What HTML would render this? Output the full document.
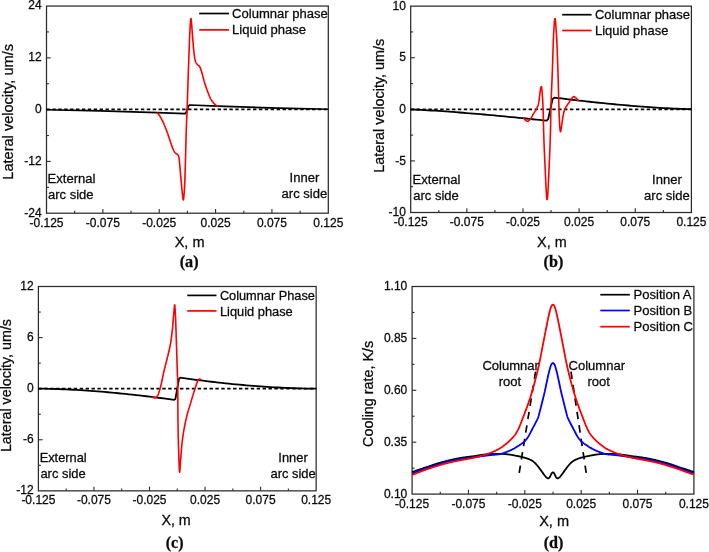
<!DOCTYPE html>
<html><head><meta charset="utf-8"><title>Figure</title>
<style>html,body{margin:0;padding:0;background:#fff}svg{display:block}</style>
</head><body>
<svg width="709" height="552" viewBox="0 0 709 552">
<rect x="0" y="0" width="709" height="552" fill="#fff"/>
<rect x="46.5" y="6.05" width="281.80" height="207.15" fill="none" stroke="#2b2b2b" stroke-width="1.25"/>
<line x1="74.68" y1="213.2" x2="74.68" y2="210.79999999999998" stroke="#2b2b2b" stroke-width="1.1"/>
<text x="46.5" y="226.8" font-family='"Liberation Sans", Arial, sans-serif' font-size="12" font-weight="normal" text-anchor="middle" fill="#0a0a0a" stroke="#0a0a0a" stroke-width="0.27">-0.125</text>
<line x1="102.86" y1="213.2" x2="102.86" y2="209.0" stroke="#2b2b2b" stroke-width="1.1"/>
<line x1="131.04" y1="213.2" x2="131.04" y2="210.79999999999998" stroke="#2b2b2b" stroke-width="1.1"/>
<text x="102.86" y="226.8" font-family='"Liberation Sans", Arial, sans-serif' font-size="12" font-weight="normal" text-anchor="middle" fill="#0a0a0a" stroke="#0a0a0a" stroke-width="0.27">-0.075</text>
<line x1="159.22" y1="213.2" x2="159.22" y2="209.0" stroke="#2b2b2b" stroke-width="1.1"/>
<line x1="187.40" y1="213.2" x2="187.40" y2="210.79999999999998" stroke="#2b2b2b" stroke-width="1.1"/>
<text x="159.22" y="226.8" font-family='"Liberation Sans", Arial, sans-serif' font-size="12" font-weight="normal" text-anchor="middle" fill="#0a0a0a" stroke="#0a0a0a" stroke-width="0.27">-0.025</text>
<line x1="215.58" y1="213.2" x2="215.58" y2="209.0" stroke="#2b2b2b" stroke-width="1.1"/>
<line x1="243.76" y1="213.2" x2="243.76" y2="210.79999999999998" stroke="#2b2b2b" stroke-width="1.1"/>
<text x="215.58" y="226.8" font-family='"Liberation Sans", Arial, sans-serif' font-size="12" font-weight="normal" text-anchor="middle" fill="#0a0a0a" stroke="#0a0a0a" stroke-width="0.27">0.025</text>
<line x1="271.94" y1="213.2" x2="271.94" y2="209.0" stroke="#2b2b2b" stroke-width="1.1"/>
<line x1="300.12" y1="213.2" x2="300.12" y2="210.79999999999998" stroke="#2b2b2b" stroke-width="1.1"/>
<text x="271.94" y="226.8" font-family='"Liberation Sans", Arial, sans-serif' font-size="12" font-weight="normal" text-anchor="middle" fill="#0a0a0a" stroke="#0a0a0a" stroke-width="0.27">0.075</text>
<text x="328.3" y="226.8" font-family='"Liberation Sans", Arial, sans-serif' font-size="12" font-weight="normal" text-anchor="middle" fill="#0a0a0a" stroke="#0a0a0a" stroke-width="0.27">0.125</text>
<line x1="46.5" y1="31.94" x2="48.9" y2="31.94" stroke="#2b2b2b" stroke-width="1.1"/>
<text x="41.7" y="9.35" font-family='"Liberation Sans", Arial, sans-serif' font-size="12" font-weight="normal" text-anchor="end" fill="#0a0a0a" stroke="#0a0a0a" stroke-width="0.27">24</text>
<line x1="46.5" y1="57.84" x2="50.7" y2="57.84" stroke="#2b2b2b" stroke-width="1.1"/>
<line x1="46.5" y1="83.73" x2="48.9" y2="83.73" stroke="#2b2b2b" stroke-width="1.1"/>
<text x="41.7" y="61.14" font-family='"Liberation Sans", Arial, sans-serif' font-size="12" font-weight="normal" text-anchor="end" fill="#0a0a0a" stroke="#0a0a0a" stroke-width="0.27">12</text>
<line x1="46.5" y1="109.62" x2="50.7" y2="109.62" stroke="#2b2b2b" stroke-width="1.1"/>
<line x1="46.5" y1="135.52" x2="48.9" y2="135.52" stroke="#2b2b2b" stroke-width="1.1"/>
<text x="41.7" y="112.92" font-family='"Liberation Sans", Arial, sans-serif' font-size="12" font-weight="normal" text-anchor="end" fill="#0a0a0a" stroke="#0a0a0a" stroke-width="0.27">0</text>
<line x1="46.5" y1="161.41" x2="50.7" y2="161.41" stroke="#2b2b2b" stroke-width="1.1"/>
<line x1="46.5" y1="187.31" x2="48.9" y2="187.31" stroke="#2b2b2b" stroke-width="1.1"/>
<text x="41.7" y="164.71" font-family='"Liberation Sans", Arial, sans-serif' font-size="12" font-weight="normal" text-anchor="end" fill="#0a0a0a" stroke="#0a0a0a" stroke-width="0.27">-12</text>
<text x="41.7" y="216.5" font-family='"Liberation Sans", Arial, sans-serif' font-size="12" font-weight="normal" text-anchor="end" fill="#0a0a0a" stroke="#0a0a0a" stroke-width="0.27">-24</text>
<text x="189.6" y="246.8" font-family='"Liberation Sans", Arial, sans-serif' font-size="14.55" font-weight="normal" text-anchor="middle" fill="#0a0a0a" stroke="#0a0a0a" stroke-width="0.27">X, m</text>
<text x="189.1" y="266.8" font-family='"Liberation Serif", "Times New Roman", serif' font-size="16.2" font-weight="bold" text-anchor="middle" fill="#0a0a0a" stroke="#0a0a0a" stroke-width="0.27">(a)</text>
<text x="12.8" y="111.85" font-family='"Liberation Sans", Arial, sans-serif' font-size="14.57" font-weight="normal" text-anchor="middle" fill="#0a0a0a" stroke="#0a0a0a" stroke-width="0.27" transform="rotate(-90 12.8 111.85)">Lateral velocity, um/s</text>
<line x1="46.5" y1="109.45" x2="328.3" y2="109.45" stroke="#000" stroke-width="1.8" stroke-dasharray="3.4 2.5"/>
<path d="M46.50,109.75 L100.00,110.90 L156.90,112.60 L184.80,113.70 L186.20,112.60 L188.40,106.20 L189.80,105.00 L217.70,106.20 L270.00,107.90 L328.30,109.25" fill="none" stroke="#000" stroke-width="1.75" stroke-linejoin="round" stroke-linecap="butt"/>
<path d="M156.90,112.60 L157.05,112.74 L157.21,112.88 L157.36,113.03 L157.51,113.18 L157.67,113.34 L157.82,113.50 L157.97,113.67 L158.13,113.85 L158.28,114.03 L158.43,114.21 L158.59,114.40 L158.74,114.59 L158.89,114.79 L159.05,114.99 L159.20,115.19 L159.35,115.40 L159.50,115.60 L159.51,115.61 L159.66,115.83 L159.81,116.05 L159.97,116.28 L160.12,116.52 L160.27,116.77 L160.43,117.02 L160.58,117.28 L160.73,117.54 L160.89,117.81 L161.04,118.09 L161.19,118.36 L161.35,118.65 L161.50,118.94 L161.65,119.23 L161.81,119.52 L161.96,119.82 L162.12,120.12 L162.27,120.43 L162.42,120.74 L162.58,121.05 L162.70,121.30 L162.73,121.36 L162.88,121.67 L163.04,121.99 L163.19,122.32 L163.34,122.65 L163.50,122.99 L163.65,123.33 L163.80,123.67 L163.96,124.02 L164.11,124.37 L164.26,124.73 L164.42,125.09 L164.57,125.46 L164.72,125.83 L164.88,126.20 L165.03,126.58 L165.18,126.96 L165.34,127.34 L165.49,127.72 L165.64,128.11 L165.80,128.50 L165.95,128.90 L166.10,129.30 L166.26,129.70 L166.41,130.10 L166.56,130.50 L166.72,130.91 L166.87,131.32 L167.02,131.73 L167.18,132.14 L167.20,132.20 L167.33,132.55 L167.48,132.98 L167.64,133.42 L167.79,133.86 L167.94,134.31 L168.10,134.77 L168.25,135.24 L168.40,135.70 L168.56,136.18 L168.71,136.65 L168.86,137.13 L169.02,137.61 L169.17,138.09 L169.32,138.57 L169.48,139.05 L169.63,139.53 L169.78,140.00 L169.94,140.47 L170.09,140.94 L170.24,141.40 L170.40,141.85 L170.55,142.30 L170.70,142.73 L170.80,143.00 L170.86,143.16 L171.01,143.59 L171.16,144.03 L171.32,144.47 L171.47,144.91 L171.62,145.35 L171.78,145.79 L171.93,146.22 L172.08,146.65 L172.24,147.07 L172.39,147.49 L172.55,147.90 L172.70,148.29 L172.85,148.67 L173.01,149.04 L173.16,149.39 L173.31,149.73 L173.47,150.04 L173.60,150.30 L173.62,150.34 L173.77,150.62 L173.93,150.90 L174.08,151.17 L174.23,151.43 L174.39,151.68 L174.54,151.92 L174.69,152.15 L174.85,152.36 L175.00,152.56 L175.15,152.74 L175.31,152.91 L175.40,153.00 L175.46,153.05 L175.61,153.18 L175.77,153.29 L175.92,153.39 L176.07,153.48 L176.23,153.56 L176.38,153.63 L176.53,153.71 L176.69,153.79 L176.84,153.88 L176.99,153.98 L177.15,154.08 L177.30,154.21 L177.45,154.35 L177.50,154.40 L177.61,154.52 L177.76,154.70 L177.91,154.92 L178.07,155.16 L178.22,155.44 L178.37,155.76 L178.53,156.13 L178.68,156.55 L178.83,157.02 L178.99,157.55 L179.00,157.60 L179.14,158.37 L179.29,159.67 L179.45,161.31 L179.60,163.12 L179.75,164.96 L179.90,166.60 L179.91,166.68 L180.06,168.32 L180.21,170.00 L180.37,171.71 L180.52,173.44 L180.67,175.18 L180.83,176.93 L180.98,178.66 L181.13,180.38 L181.20,181.10 L181.29,182.08 L181.44,183.84 L181.59,185.62 L181.75,187.38 L181.90,189.07 L182.05,190.65 L182.20,192.00 L182.21,192.07 L182.36,193.50 L182.52,195.00 L182.67,196.47 L182.82,197.81 L182.98,198.91 L183.13,199.68 L183.28,200.00 L183.30,200.00 L183.44,199.79 L183.59,199.07 L183.74,197.94 L183.90,196.45 L184.05,194.70 L184.20,192.76 L184.36,190.70 L184.40,190.10 L184.51,188.37 L184.66,185.17 L184.82,181.25 L184.97,176.76 L185.12,171.89 L185.28,166.79 L185.43,161.64 L185.50,159.30 L185.58,156.40 L185.74,150.33 L185.89,143.88 L186.04,137.67 L186.20,132.32 L186.20,132.20 L186.35,127.96 L186.50,124.12 L186.66,120.55 L186.81,116.98 L186.96,113.18 L187.00,112.20 L187.12,108.99 L187.27,104.57 L187.42,99.98 L187.58,95.27 L187.73,90.49 L187.88,85.68 L188.04,80.89 L188.19,76.18 L188.34,71.58 L188.50,67.16 L188.60,64.30 L188.65,62.93 L188.80,58.74 L188.96,54.57 L189.11,50.45 L189.26,46.44 L189.42,42.56 L189.57,38.86 L189.72,35.37 L189.88,32.15 L189.90,31.70 L190.03,29.09 L190.18,26.12 L190.34,23.53 L190.49,21.59 L190.50,21.50 L190.64,20.11 L190.80,18.90 L190.95,18.40 L190.95,18.40 L191.10,18.94 L191.26,20.19 L191.40,21.50 L191.41,21.60 L191.56,23.19 L191.72,25.11 L191.87,27.22 L192.02,29.38 L192.18,31.43 L192.20,31.70 L192.33,33.36 L192.48,35.35 L192.64,37.35 L192.79,39.36 L192.95,41.34 L193.10,43.27 L193.25,45.13 L193.41,46.89 L193.56,48.52 L193.70,49.90 L193.71,50.01 L193.87,51.42 L194.02,52.79 L194.17,54.11 L194.33,55.36 L194.48,56.51 L194.63,57.54 L194.79,58.43 L194.90,59.00 L194.94,59.18 L195.09,59.83 L195.25,60.44 L195.40,60.99 L195.55,61.48 L195.71,61.92 L195.86,62.30 L196.00,62.60 L196.01,62.62 L196.17,62.90 L196.32,63.16 L196.47,63.39 L196.63,63.60 L196.78,63.80 L196.93,63.98 L197.09,64.15 L197.24,64.32 L197.39,64.48 L197.50,64.60 L197.55,64.65 L197.70,64.80 L197.85,64.94 L198.01,65.07 L198.16,65.19 L198.31,65.30 L198.47,65.42 L198.62,65.53 L198.77,65.65 L198.93,65.78 L199.08,65.93 L199.23,66.08 L199.39,66.26 L199.50,66.40 L199.54,66.46 L199.69,66.69 L199.85,66.96 L200.00,67.27 L200.15,67.61 L200.31,67.97 L200.46,68.36 L200.61,68.76 L200.77,69.18 L200.92,69.62 L201.07,70.05 L201.23,70.49 L201.30,70.70 L201.38,70.94 L201.53,71.41 L201.69,71.92 L201.84,72.45 L201.99,73.00 L202.15,73.57 L202.30,74.16 L202.45,74.76 L202.61,75.37 L202.76,75.99 L202.92,76.61 L203.07,77.22 L203.22,77.83 L203.38,78.43 L203.53,79.02 L203.68,79.59 L203.84,80.14 L203.99,80.66 L204.00,80.70 L204.14,81.17 L204.30,81.68 L204.45,82.18 L204.60,82.68 L204.76,83.17 L204.91,83.67 L205.06,84.15 L205.22,84.64 L205.37,85.11 L205.52,85.59 L205.68,86.06 L205.83,86.52 L205.98,86.98 L206.14,87.44 L206.29,87.89 L206.44,88.33 L206.60,88.77 L206.75,89.20 L206.90,89.63 L207.06,90.05 L207.21,90.47 L207.36,90.88 L207.52,91.28 L207.60,91.50 L207.67,91.68 L207.82,92.08 L207.98,92.48 L208.13,92.87 L208.28,93.27 L208.44,93.67 L208.59,94.06 L208.74,94.45 L208.90,94.83 L209.05,95.21 L209.20,95.59 L209.36,95.96 L209.51,96.32 L209.66,96.68 L209.82,97.02 L209.97,97.36 L210.12,97.69 L210.28,98.01 L210.43,98.33 L210.58,98.62 L210.74,98.91 L210.89,99.19 L211.04,99.45 L211.20,99.70 L211.20,99.70 L211.35,99.94 L211.50,100.17 L211.66,100.40 L211.81,100.62 L211.96,100.85 L212.12,101.06 L212.27,101.28 L212.42,101.49 L212.58,101.69 L212.73,101.89 L212.88,102.09 L213.04,102.28 L213.19,102.47 L213.35,102.65 L213.50,102.83 L213.65,103.01 L213.81,103.18 L213.96,103.35 L214.11,103.52 L214.27,103.68 L214.42,103.84 L214.57,103.99 L214.73,104.14 L214.88,104.29 L215.03,104.43 L215.19,104.57 L215.34,104.71 L215.49,104.84 L215.65,104.97 L215.80,105.10 L215.80,105.10 L215.95,105.22 L216.11,105.34 L216.26,105.46 L216.41,105.57 L216.57,105.68 L216.72,105.79 L216.87,105.90 L217.03,106.00 L217.18,106.09 L217.33,106.19 L217.49,106.28 L217.64,106.36 L217.79,106.45 L217.95,106.52 L218.10,106.60" fill="none" stroke="#f00" stroke-width="1.6" stroke-linejoin="round" stroke-linecap="butt"/>
<line x1="199.2" y1="13.5" x2="229" y2="13.5" stroke="#000" stroke-width="1.7"/>
<line x1="199.2" y1="29.9" x2="229" y2="29.9" stroke="#f00" stroke-width="1.7"/>
<text x="232.1" y="18.2" font-family='"Liberation Sans", Arial, sans-serif' font-size="13.05" font-weight="normal" text-anchor="start" fill="#0a0a0a" stroke="#0a0a0a" stroke-width="0.27">Columnar phase</text>
<text x="232.1" y="34.4" font-family='"Liberation Sans", Arial, sans-serif' font-size="13.05" font-weight="normal" text-anchor="start" fill="#0a0a0a" stroke="#0a0a0a" stroke-width="0.27">Liquid phase</text>
<text x="47.6" y="182.8" font-family='"Liberation Sans", Arial, sans-serif' font-size="13.05" font-weight="normal" text-anchor="start" fill="#0a0a0a" stroke="#0a0a0a" stroke-width="0.27">External</text>
<text x="47.9" y="198.9" font-family='"Liberation Sans", Arial, sans-serif' font-size="13.05" font-weight="normal" text-anchor="start" fill="#0a0a0a" stroke="#0a0a0a" stroke-width="0.27">arc side</text>
<text x="304.4" y="181.9" font-family='"Liberation Sans", Arial, sans-serif' font-size="13.05" font-weight="normal" text-anchor="middle" fill="#0a0a0a" stroke="#0a0a0a" stroke-width="0.27">Inner</text>
<text x="304.4" y="197.6" font-family='"Liberation Sans", Arial, sans-serif' font-size="13.05" font-weight="normal" text-anchor="middle" fill="#0a0a0a" stroke="#0a0a0a" stroke-width="0.27">arc side</text>
<rect x="410.7" y="6.15" width="280.70" height="206.35" fill="none" stroke="#2b2b2b" stroke-width="1.25"/>
<line x1="438.77" y1="212.5" x2="438.77" y2="210.1" stroke="#2b2b2b" stroke-width="1.1"/>
<text x="410.7" y="226.2" font-family='"Liberation Sans", Arial, sans-serif' font-size="12" font-weight="normal" text-anchor="middle" fill="#0a0a0a" stroke="#0a0a0a" stroke-width="0.27">-0.125</text>
<line x1="466.84" y1="212.5" x2="466.84" y2="208.3" stroke="#2b2b2b" stroke-width="1.1"/>
<line x1="494.91" y1="212.5" x2="494.91" y2="210.1" stroke="#2b2b2b" stroke-width="1.1"/>
<text x="466.84" y="226.2" font-family='"Liberation Sans", Arial, sans-serif' font-size="12" font-weight="normal" text-anchor="middle" fill="#0a0a0a" stroke="#0a0a0a" stroke-width="0.27">-0.075</text>
<line x1="522.98" y1="212.5" x2="522.98" y2="208.3" stroke="#2b2b2b" stroke-width="1.1"/>
<line x1="551.05" y1="212.5" x2="551.05" y2="210.1" stroke="#2b2b2b" stroke-width="1.1"/>
<text x="522.98" y="226.2" font-family='"Liberation Sans", Arial, sans-serif' font-size="12" font-weight="normal" text-anchor="middle" fill="#0a0a0a" stroke="#0a0a0a" stroke-width="0.27">-0.025</text>
<line x1="579.12" y1="212.5" x2="579.12" y2="208.3" stroke="#2b2b2b" stroke-width="1.1"/>
<line x1="607.19" y1="212.5" x2="607.19" y2="210.1" stroke="#2b2b2b" stroke-width="1.1"/>
<text x="579.12" y="226.2" font-family='"Liberation Sans", Arial, sans-serif' font-size="12" font-weight="normal" text-anchor="middle" fill="#0a0a0a" stroke="#0a0a0a" stroke-width="0.27">0.025</text>
<line x1="635.26" y1="212.5" x2="635.26" y2="208.3" stroke="#2b2b2b" stroke-width="1.1"/>
<line x1="663.33" y1="212.5" x2="663.33" y2="210.1" stroke="#2b2b2b" stroke-width="1.1"/>
<text x="635.26" y="226.2" font-family='"Liberation Sans", Arial, sans-serif' font-size="12" font-weight="normal" text-anchor="middle" fill="#0a0a0a" stroke="#0a0a0a" stroke-width="0.27">0.075</text>
<text x="691.4" y="226.2" font-family='"Liberation Sans", Arial, sans-serif' font-size="12" font-weight="normal" text-anchor="middle" fill="#0a0a0a" stroke="#0a0a0a" stroke-width="0.27">0.125</text>
<line x1="410.7" y1="31.94" x2="413.09999999999997" y2="31.94" stroke="#2b2b2b" stroke-width="1.1"/>
<text x="405.9" y="9.85" font-family='"Liberation Sans", Arial, sans-serif' font-size="12" font-weight="normal" text-anchor="end" fill="#0a0a0a" stroke="#0a0a0a" stroke-width="0.27">10</text>
<line x1="410.7" y1="57.74" x2="414.9" y2="57.74" stroke="#2b2b2b" stroke-width="1.1"/>
<line x1="410.7" y1="83.53" x2="413.09999999999997" y2="83.53" stroke="#2b2b2b" stroke-width="1.1"/>
<text x="405.9" y="61.44" font-family='"Liberation Sans", Arial, sans-serif' font-size="12" font-weight="normal" text-anchor="end" fill="#0a0a0a" stroke="#0a0a0a" stroke-width="0.27">5</text>
<line x1="410.7" y1="109.33" x2="414.9" y2="109.33" stroke="#2b2b2b" stroke-width="1.1"/>
<line x1="410.7" y1="135.12" x2="413.09999999999997" y2="135.12" stroke="#2b2b2b" stroke-width="1.1"/>
<text x="405.9" y="113.03" font-family='"Liberation Sans", Arial, sans-serif' font-size="12" font-weight="normal" text-anchor="end" fill="#0a0a0a" stroke="#0a0a0a" stroke-width="0.27">0</text>
<line x1="410.7" y1="160.91" x2="414.9" y2="160.91" stroke="#2b2b2b" stroke-width="1.1"/>
<line x1="410.7" y1="186.71" x2="413.09999999999997" y2="186.71" stroke="#2b2b2b" stroke-width="1.1"/>
<text x="405.9" y="164.61" font-family='"Liberation Sans", Arial, sans-serif' font-size="12" font-weight="normal" text-anchor="end" fill="#0a0a0a" stroke="#0a0a0a" stroke-width="0.27">-5</text>
<text x="405.9" y="216.2" font-family='"Liberation Sans", Arial, sans-serif' font-size="12" font-weight="normal" text-anchor="end" fill="#0a0a0a" stroke="#0a0a0a" stroke-width="0.27">-10</text>
<text x="551.9" y="246.8" font-family='"Liberation Sans", Arial, sans-serif' font-size="14.4" font-weight="normal" text-anchor="middle" fill="#0a0a0a" stroke="#0a0a0a" stroke-width="0.27">X, m</text>
<text x="553.4" y="266.8" font-family='"Liberation Serif", "Times New Roman", serif' font-size="16.2" font-weight="bold" text-anchor="middle" fill="#0a0a0a" stroke="#0a0a0a" stroke-width="0.27">(b)</text>
<text x="383.8" y="105.75" font-family='"Liberation Sans", Arial, sans-serif' font-size="14.4" font-weight="normal" text-anchor="middle" fill="#0a0a0a" stroke="#0a0a0a" stroke-width="0.27" transform="rotate(-90 383.8 105.75)">Lateral velocity, um/s</text>
<line x1="410.7" y1="109.325" x2="691.4" y2="109.325" stroke="#000" stroke-width="1.8" stroke-dasharray="3.4 2.5"/>
<path d="M410.70,109.53 L414.19,109.62 L417.67,109.76 L421.16,109.92 L424.65,110.10 L428.14,110.30 L431.62,110.51 L435.11,110.72 L438.60,110.95 L442.08,111.19 L445.57,111.43 L449.06,111.68 L452.55,111.94 L456.03,112.20 L459.52,112.48 L463.01,112.75 L466.49,113.03 L469.98,113.32 L473.47,113.61 L476.96,113.91 L480.44,114.22 L483.93,114.52 L487.42,114.83 L490.91,115.15 L494.39,115.47 L497.88,115.79 L501.37,116.12 L504.85,116.45 L508.34,116.79 L511.83,117.13 L515.32,117.47 L518.80,117.82 L522.29,118.17 L525.78,118.52 L529.26,118.87 L532.75,119.23 L536.24,119.60 L539.73,119.96 L543.21,120.33 L546.70,120.70 L548.20,119.00 L552.60,99.00 L554.50,97.60 L558.01,98.04 L561.52,98.48 L565.03,98.90 L568.54,99.33 L572.05,99.74 L575.56,100.15 L579.07,100.56 L582.58,100.96 L586.09,101.35 L589.60,101.74 L593.11,102.11 L596.62,102.49 L600.13,102.85 L603.64,103.21 L607.15,103.56 L610.66,103.91 L614.17,104.24 L617.68,104.57 L621.19,104.89 L624.71,105.21 L628.22,105.51 L631.73,105.81 L635.24,106.10 L638.75,106.38 L642.26,106.65 L645.77,106.91 L649.28,107.16 L652.79,107.40 L656.30,107.63 L659.81,107.85 L663.32,108.05 L666.83,108.25 L670.34,108.43 L673.85,108.60 L677.36,108.75 L680.87,108.88 L684.38,108.99 L687.89,109.08 L691.40,109.12" fill="none" stroke="#000" stroke-width="1.8" stroke-linejoin="round" stroke-linecap="butt"/>
<path d="M523.60,117.50 L523.74,117.75 L523.87,118.00 L524.01,118.24 L524.15,118.48 L524.29,118.70 L524.42,118.92 L524.56,119.13 L524.70,119.32 L524.84,119.51 L524.97,119.68 L525.11,119.84 L525.25,119.98 L525.39,120.11 L525.50,120.20 L525.52,120.22 L525.66,120.32 L525.80,120.42 L525.93,120.52 L526.07,120.62 L526.21,120.71 L526.35,120.80 L526.48,120.89 L526.62,120.97 L526.76,121.04 L526.90,121.11 L527.03,121.16 L527.17,121.21 L527.31,121.25 L527.45,121.28 L527.58,121.30 L527.70,121.30 L527.72,121.30 L527.86,121.29 L527.99,121.25 L528.13,121.20 L528.27,121.13 L528.41,121.05 L528.54,120.96 L528.68,120.85 L528.82,120.73 L528.96,120.60 L529.09,120.47 L529.23,120.33 L529.37,120.18 L529.51,120.03 L529.64,119.88 L529.78,119.73 L529.92,119.59 L530.00,119.50 L530.06,119.44 L530.19,119.28 L530.33,119.11 L530.47,118.92 L530.60,118.73 L530.74,118.52 L530.88,118.30 L531.02,118.07 L531.15,117.84 L531.29,117.59 L531.43,117.35 L531.57,117.10 L531.70,116.84 L531.84,116.58 L531.98,116.33 L532.12,116.07 L532.25,115.81 L532.39,115.56 L532.53,115.31 L532.66,115.07 L532.80,114.83 L532.94,114.60 L533.00,114.50 L533.08,114.38 L533.21,114.16 L533.35,113.94 L533.49,113.72 L533.63,113.51 L533.76,113.30 L533.90,113.09 L534.04,112.88 L534.18,112.67 L534.31,112.46 L534.45,112.25 L534.59,112.04 L534.72,111.83 L534.86,111.61 L535.00,111.40 L535.14,111.18 L535.27,110.96 L535.41,110.73 L535.55,110.50 L535.69,110.27 L535.82,110.03 L535.90,109.90 L535.96,109.79 L536.10,109.55 L536.24,109.31 L536.37,109.06 L536.51,108.81 L536.65,108.55 L536.78,108.28 L536.92,108.01 L537.06,107.73 L537.20,107.43 L537.30,107.20 L537.33,107.12 L537.47,106.81 L537.61,106.50 L537.75,106.18 L537.88,105.83 L538.02,105.46 L538.16,105.04 L538.30,104.58 L538.40,104.20 L538.43,104.07 L538.57,103.43 L538.71,102.65 L538.85,101.76 L538.98,100.79 L539.12,99.76 L539.26,98.70 L539.39,97.62 L539.53,96.55 L539.67,95.52 L539.70,95.30 L539.81,94.48 L539.94,93.32 L540.08,92.11 L540.22,90.93 L540.36,89.86 L540.49,88.99 L540.60,88.50 L540.63,88.39 L540.77,87.88 L540.91,87.41 L541.04,87.01 L541.18,86.71 L541.32,86.53 L541.40,86.50 L541.45,86.55 L541.59,87.03 L541.73,87.97 L541.87,89.27 L542.00,90.84 L542.14,92.58 L542.28,94.40 L542.40,96.00 L542.42,96.21 L542.55,98.16 L542.69,100.42 L542.83,103.03 L542.97,106.03 L543.10,109.40 L543.10,109.47 L543.24,114.37 L543.38,120.64 L543.51,126.83 L543.60,130.00 L543.65,131.67 L543.79,135.89 L543.93,139.87 L544.06,143.63 L544.20,147.19 L544.34,150.57 L544.48,153.80 L544.61,156.89 L544.75,159.85 L544.89,162.72 L545.00,165.00 L545.03,165.52 L545.16,168.39 L545.30,171.37 L545.44,174.42 L545.57,177.50 L545.71,180.54 L545.85,183.52 L545.99,186.38 L546.12,189.08 L546.26,191.58 L546.40,193.83 L546.54,195.77 L546.67,197.38 L546.81,198.60 L546.95,199.39 L547.09,199.70 L547.10,199.70 L547.22,199.50 L547.36,198.82 L547.50,197.71 L547.64,196.21 L547.77,194.36 L547.91,192.20 L548.05,189.79 L548.18,187.15 L548.32,184.33 L548.46,181.39 L548.60,178.35 L548.73,175.26 L548.87,172.17 L549.01,169.11 L549.15,166.14 L549.20,165.00 L549.28,163.25 L549.42,160.31 L549.56,157.25 L549.70,154.04 L549.83,150.64 L549.97,147.00 L550.11,143.08 L550.24,138.85 L550.38,134.26 L550.50,130.00 L550.52,129.24 L550.66,122.21 L550.79,114.33 L550.90,109.40 L550.93,108.25 L551.07,103.55 L551.21,99.33 L551.34,95.50 L551.48,91.98 L551.62,88.68 L551.76,85.52 L551.89,82.41 L552.03,79.27 L552.17,76.02 L552.30,72.56 L552.40,70.00 L552.44,68.81 L552.58,64.70 L552.72,60.31 L552.85,55.80 L552.99,51.29 L553.13,46.93 L553.27,42.86 L553.40,39.21 L553.54,36.12 L553.60,35.00 L553.68,33.60 L553.82,31.12 L553.95,28.68 L554.09,26.35 L554.23,24.19 L554.36,22.28 L554.50,20.69 L554.64,19.48 L554.78,18.73 L554.90,18.50 L554.91,18.50 L555.05,18.72 L555.19,19.29 L555.33,20.16 L555.46,21.30 L555.60,22.68 L555.74,24.26 L555.88,26.00 L556.01,27.87 L556.15,29.83 L556.29,31.85 L556.43,33.89 L556.50,35.00 L556.56,35.96 L556.70,38.37 L556.84,41.15 L556.97,44.24 L557.11,47.60 L557.25,51.20 L557.39,54.98 L557.52,58.90 L557.66,62.92 L557.80,66.99 L557.90,70.00 L557.94,71.09 L558.07,75.62 L558.21,80.62 L558.35,85.91 L558.49,91.29 L558.62,96.61 L558.76,101.68 L558.90,106.32 L559.00,109.40 L559.03,110.38 L559.17,114.31 L559.31,118.12 L559.45,121.55 L559.58,124.34 L559.70,126.00 L559.72,126.24 L559.86,127.71 L560.00,129.07 L560.13,130.21 L560.27,131.08 L560.41,131.60 L560.50,131.70 L560.55,131.68 L560.68,131.43 L560.82,130.92 L560.96,130.21 L561.09,129.37 L561.23,128.44 L561.37,127.49 L561.51,126.57 L561.60,126.00 L561.64,125.74 L561.78,124.87 L561.92,123.93 L562.06,122.94 L562.19,121.93 L562.33,120.91 L562.47,119.90 L562.61,118.93 L562.74,118.01 L562.88,117.16 L563.00,116.50 L563.02,116.41 L563.15,115.70 L563.29,115.00 L563.43,114.32 L563.57,113.66 L563.70,113.02 L563.84,112.40 L563.98,111.82 L564.12,111.27 L564.25,110.76 L564.39,110.29 L564.53,109.86 L564.67,109.49 L564.70,109.40 L564.80,109.15 L564.94,108.84 L565.08,108.55 L565.22,108.28 L565.35,108.02 L565.49,107.78 L565.63,107.55 L565.76,107.33 L565.90,107.12 L566.04,106.92 L566.18,106.72 L566.31,106.52 L566.45,106.32 L566.59,106.12 L566.73,105.92 L566.86,105.71 L567.00,105.50 L567.00,105.50 L567.14,105.28 L567.28,105.06 L567.41,104.85 L567.55,104.63 L567.69,104.42 L567.82,104.21 L567.96,104.00 L568.10,103.79 L568.24,103.58 L568.37,103.37 L568.51,103.17 L568.65,102.96 L568.79,102.76 L568.92,102.56 L569.06,102.36 L569.20,102.16 L569.34,101.96 L569.47,101.76 L569.61,101.56 L569.75,101.36 L569.88,101.16 L570.00,101.00 L570.02,100.97 L570.16,100.77 L570.30,100.57 L570.43,100.36 L570.57,100.16 L570.71,99.95 L570.85,99.74 L570.98,99.53 L571.12,99.33 L571.26,99.13 L571.40,98.93 L571.53,98.74 L571.67,98.55 L571.81,98.37 L571.94,98.20 L572.08,98.03 L572.22,97.88 L572.36,97.74 L572.49,97.61 L572.50,97.60 L572.63,97.48 L572.77,97.34 L572.91,97.21 L573.04,97.08 L573.18,96.96 L573.32,96.85 L573.46,96.75 L573.59,96.68 L573.73,96.62 L573.87,96.60 L573.90,96.60 L574.01,96.61 L574.14,96.64 L574.28,96.69 L574.42,96.76 L574.55,96.84 L574.69,96.94 L574.83,97.04 L574.97,97.15 L575.10,97.27 L575.24,97.39 L575.38,97.50 L575.50,97.60 L575.52,97.61 L575.65,97.72 L575.79,97.84 L575.93,97.96 L576.07,98.09 L576.20,98.22 L576.34,98.36 L576.48,98.51 L576.61,98.65 L576.75,98.81 L576.89,98.96 L577.03,99.13 L577.16,99.29 L577.30,99.46 L577.44,99.64 L577.58,99.82 L577.71,100.01 L577.85,100.20 L577.99,100.39 L578.13,100.59 L578.26,100.79 L578.40,101.00" fill="none" stroke="#f00" stroke-width="1.6" stroke-linejoin="round" stroke-linecap="butt"/>
<line x1="562.2" y1="14.7" x2="591.6" y2="14.7" stroke="#000" stroke-width="1.7"/>
<line x1="562.2" y1="30.5" x2="591.6" y2="30.5" stroke="#f00" stroke-width="1.7"/>
<text x="595.0" y="19.3" font-family='"Liberation Sans", Arial, sans-serif' font-size="12.95" font-weight="normal" text-anchor="start" fill="#0a0a0a" stroke="#0a0a0a" stroke-width="0.27">Columnar phase</text>
<text x="595.0" y="35.2" font-family='"Liberation Sans", Arial, sans-serif' font-size="12.95" font-weight="normal" text-anchor="start" fill="#0a0a0a" stroke="#0a0a0a" stroke-width="0.27">Liquid phase</text>
<text x="412.6" y="183.5" font-family='"Liberation Sans", Arial, sans-serif' font-size="13.05" font-weight="normal" text-anchor="start" fill="#0a0a0a" stroke="#0a0a0a" stroke-width="0.27">External</text>
<text x="413.2" y="199.5" font-family='"Liberation Sans", Arial, sans-serif' font-size="13.05" font-weight="normal" text-anchor="start" fill="#0a0a0a" stroke="#0a0a0a" stroke-width="0.27">arc side</text>
<text x="666.9" y="183.5" font-family='"Liberation Sans", Arial, sans-serif' font-size="13.05" font-weight="normal" text-anchor="middle" fill="#0a0a0a" stroke="#0a0a0a" stroke-width="0.27">Inner</text>
<text x="666.9" y="199.5" font-family='"Liberation Sans", Arial, sans-serif' font-size="13.05" font-weight="normal" text-anchor="middle" fill="#0a0a0a" stroke="#0a0a0a" stroke-width="0.27">arc side</text>
<rect x="38.4" y="286.5" width="277.75" height="204.35" fill="none" stroke="#2b2b2b" stroke-width="1.25"/>
<line x1="66.17" y1="490.85" x2="66.17" y2="488.45000000000005" stroke="#2b2b2b" stroke-width="1.1"/>
<text x="38.4" y="504.3" font-family='"Liberation Sans", Arial, sans-serif' font-size="12" font-weight="normal" text-anchor="middle" fill="#0a0a0a" stroke="#0a0a0a" stroke-width="0.27">-0.125</text>
<line x1="93.95" y1="490.85" x2="93.95" y2="486.65000000000003" stroke="#2b2b2b" stroke-width="1.1"/>
<line x1="121.72" y1="490.85" x2="121.72" y2="488.45000000000005" stroke="#2b2b2b" stroke-width="1.1"/>
<text x="93.95" y="504.3" font-family='"Liberation Sans", Arial, sans-serif' font-size="12" font-weight="normal" text-anchor="middle" fill="#0a0a0a" stroke="#0a0a0a" stroke-width="0.27">-0.075</text>
<line x1="149.50" y1="490.85" x2="149.50" y2="486.65000000000003" stroke="#2b2b2b" stroke-width="1.1"/>
<line x1="177.28" y1="490.85" x2="177.28" y2="488.45000000000005" stroke="#2b2b2b" stroke-width="1.1"/>
<text x="149.5" y="504.3" font-family='"Liberation Sans", Arial, sans-serif' font-size="12" font-weight="normal" text-anchor="middle" fill="#0a0a0a" stroke="#0a0a0a" stroke-width="0.27">-0.025</text>
<line x1="205.05" y1="490.85" x2="205.05" y2="486.65000000000003" stroke="#2b2b2b" stroke-width="1.1"/>
<line x1="232.82" y1="490.85" x2="232.82" y2="488.45000000000005" stroke="#2b2b2b" stroke-width="1.1"/>
<text x="205.05" y="504.3" font-family='"Liberation Sans", Arial, sans-serif' font-size="12" font-weight="normal" text-anchor="middle" fill="#0a0a0a" stroke="#0a0a0a" stroke-width="0.27">0.025</text>
<line x1="260.60" y1="490.85" x2="260.60" y2="486.65000000000003" stroke="#2b2b2b" stroke-width="1.1"/>
<line x1="288.37" y1="490.85" x2="288.37" y2="488.45000000000005" stroke="#2b2b2b" stroke-width="1.1"/>
<text x="260.6" y="504.3" font-family='"Liberation Sans", Arial, sans-serif' font-size="12" font-weight="normal" text-anchor="middle" fill="#0a0a0a" stroke="#0a0a0a" stroke-width="0.27">0.075</text>
<text x="316.15" y="504.3" font-family='"Liberation Sans", Arial, sans-serif' font-size="12" font-weight="normal" text-anchor="middle" fill="#0a0a0a" stroke="#0a0a0a" stroke-width="0.27">0.125</text>
<line x1="38.4" y1="312.04" x2="40.8" y2="312.04" stroke="#2b2b2b" stroke-width="1.1"/>
<text x="33.6" y="289.9" font-family='"Liberation Sans", Arial, sans-serif' font-size="12" font-weight="normal" text-anchor="end" fill="#0a0a0a" stroke="#0a0a0a" stroke-width="0.27">12</text>
<line x1="38.4" y1="337.59" x2="42.6" y2="337.59" stroke="#2b2b2b" stroke-width="1.1"/>
<line x1="38.4" y1="363.13" x2="40.8" y2="363.13" stroke="#2b2b2b" stroke-width="1.1"/>
<text x="33.6" y="340.99" font-family='"Liberation Sans", Arial, sans-serif' font-size="12" font-weight="normal" text-anchor="end" fill="#0a0a0a" stroke="#0a0a0a" stroke-width="0.27">6</text>
<line x1="38.4" y1="388.68" x2="42.6" y2="388.68" stroke="#2b2b2b" stroke-width="1.1"/>
<line x1="38.4" y1="414.22" x2="40.8" y2="414.22" stroke="#2b2b2b" stroke-width="1.1"/>
<text x="33.6" y="392.07" font-family='"Liberation Sans", Arial, sans-serif' font-size="12" font-weight="normal" text-anchor="end" fill="#0a0a0a" stroke="#0a0a0a" stroke-width="0.27">0</text>
<line x1="38.4" y1="439.76" x2="42.6" y2="439.76" stroke="#2b2b2b" stroke-width="1.1"/>
<line x1="38.4" y1="465.31" x2="40.8" y2="465.31" stroke="#2b2b2b" stroke-width="1.1"/>
<text x="33.6" y="443.16" font-family='"Liberation Sans", Arial, sans-serif' font-size="12" font-weight="normal" text-anchor="end" fill="#0a0a0a" stroke="#0a0a0a" stroke-width="0.27">-6</text>
<text x="33.6" y="494.25" font-family='"Liberation Sans", Arial, sans-serif' font-size="12" font-weight="normal" text-anchor="end" fill="#0a0a0a" stroke="#0a0a0a" stroke-width="0.27">-12</text>
<text x="176.1" y="525.4" font-family='"Liberation Sans", Arial, sans-serif' font-size="14.3" font-weight="normal" text-anchor="middle" fill="#0a0a0a" stroke="#0a0a0a" stroke-width="0.27">X, m</text>
<text x="174.6" y="548.2" font-family='"Liberation Serif", "Times New Roman", serif' font-size="16.0" font-weight="bold" text-anchor="middle" fill="#0a0a0a" stroke="#0a0a0a" stroke-width="0.27">(c)</text>
<text x="10.8" y="385.55" font-family='"Liberation Sans", Arial, sans-serif' font-size="14.29" font-weight="normal" text-anchor="middle" fill="#0a0a0a" stroke="#0a0a0a" stroke-width="0.27" transform="rotate(-90 10.8 385.55)">Lateral velocity, um/s</text>
<line x1="38.4" y1="388.65" x2="316.15" y2="388.65" stroke="#000" stroke-width="1.8" stroke-dasharray="3.4 2.5"/>
<path d="M38.40,388.65 L41.88,388.67 L45.36,388.72 L48.85,388.79 L52.33,388.88 L55.81,388.99 L59.29,389.12 L62.77,389.26 L66.26,389.41 L69.74,389.58 L73.22,389.76 L76.70,389.96 L80.18,390.17 L83.67,390.39 L87.15,390.62 L90.63,390.87 L94.11,391.12 L97.59,391.39 L101.08,391.67 L104.56,391.96 L108.04,392.26 L111.52,392.58 L115.01,392.90 L118.49,393.23 L121.97,393.58 L125.45,393.93 L128.93,394.30 L132.42,394.67 L135.90,395.05 L139.38,395.45 L142.86,395.85 L146.34,396.26 L149.83,396.69 L153.31,397.12 L156.79,397.56 L160.27,398.01 L163.75,398.47 L167.24,398.94 L170.72,399.41 L174.20,399.90 L175.40,399.00 L179.00,378.80 L180.20,377.60 L183.69,378.10 L187.17,378.60 L190.66,379.08 L194.14,379.56 L197.63,380.02 L201.12,380.47 L204.60,380.91 L208.09,381.34 L211.57,381.76 L215.06,382.17 L218.54,382.56 L222.03,382.95 L225.52,383.32 L229.00,383.69 L232.49,384.04 L235.97,384.38 L239.46,384.71 L242.95,385.02 L246.43,385.33 L249.92,385.62 L253.40,385.90 L256.89,386.17 L260.38,386.43 L263.86,386.67 L267.35,386.90 L270.83,387.12 L274.32,387.33 L277.81,387.52 L281.29,387.70 L284.78,387.86 L288.26,388.01 L291.75,388.15 L295.23,388.27 L298.72,388.38 L302.21,388.47 L305.69,388.54 L309.18,388.60 L312.66,388.63 L316.15,388.65" fill="none" stroke="#000" stroke-width="1.8" stroke-linejoin="round" stroke-linecap="butt"/>
<path d="M152.30,396.90 L152.42,397.02 L152.54,397.12 L152.66,397.22 L152.79,397.31 L152.91,397.39 L153.03,397.47 L153.15,397.53 L153.27,397.59 L153.39,397.65 L153.51,397.69 L153.63,397.73 L153.76,397.77 L153.88,397.80 L154.00,397.83 L154.12,397.85 L154.24,397.86 L154.36,397.88 L154.48,397.89 L154.60,397.89 L154.73,397.90 L154.85,397.90 L154.90,397.90 L154.97,397.90 L155.09,397.88 L155.21,397.86 L155.33,397.82 L155.45,397.77 L155.58,397.71 L155.70,397.64 L155.82,397.55 L155.94,397.46 L156.06,397.36 L156.18,397.26 L156.30,397.14 L156.42,397.02 L156.55,396.89 L156.67,396.76 L156.79,396.62 L156.91,396.48 L157.03,396.33 L157.15,396.18 L157.27,396.02 L157.39,395.87 L157.52,395.71 L157.60,395.60 L157.64,395.55 L157.76,395.37 L157.88,395.16 L158.00,394.93 L158.12,394.67 L158.24,394.40 L158.37,394.10 L158.49,393.78 L158.61,393.45 L158.73,393.10 L158.85,392.74 L158.97,392.37 L159.09,391.98 L159.21,391.59 L159.34,391.18 L159.46,390.77 L159.58,390.36 L159.70,389.94 L159.82,389.52 L159.94,389.09 L160.06,388.67 L160.18,388.25 L160.20,388.20 L160.31,387.83 L160.43,387.39 L160.55,386.93 L160.67,386.45 L160.79,385.97 L160.91,385.46 L161.03,384.95 L161.16,384.42 L161.28,383.89 L161.40,383.34 L161.52,382.78 L161.64,382.22 L161.76,381.65 L161.88,381.07 L162.00,380.49 L162.13,379.90 L162.25,379.32 L162.37,378.73 L162.49,378.14 L162.61,377.55 L162.73,376.96 L162.85,376.37 L162.97,375.78 L163.10,375.20 L163.22,374.63 L163.34,374.06 L163.46,373.50 L163.58,372.94 L163.70,372.39 L163.82,371.86 L163.95,371.33 L164.00,371.10 L164.07,370.82 L164.19,370.31 L164.31,369.81 L164.43,369.31 L164.55,368.82 L164.67,368.33 L164.79,367.84 L164.92,367.36 L165.04,366.88 L165.16,366.41 L165.28,365.93 L165.40,365.46 L165.52,364.99 L165.64,364.52 L165.76,364.05 L165.89,363.58 L166.01,363.11 L166.13,362.64 L166.25,362.17 L166.37,361.70 L166.49,361.22 L166.61,360.75 L166.74,360.27 L166.86,359.79 L166.98,359.30 L167.10,358.81 L167.22,358.32 L167.34,357.82 L167.46,357.32 L167.58,356.82 L167.71,356.30 L167.80,355.90 L167.83,355.79 L167.95,355.27 L168.07,354.76 L168.19,354.26 L168.31,353.76 L168.43,353.26 L168.55,352.76 L168.68,352.26 L168.80,351.76 L168.92,351.26 L169.04,350.75 L169.16,350.24 L169.28,349.72 L169.40,349.18 L169.53,348.64 L169.65,348.09 L169.77,347.53 L169.89,346.95 L170.01,346.35 L170.13,345.74 L170.25,345.11 L170.37,344.46 L170.50,343.78 L170.62,343.09 L170.70,342.60 L170.74,342.37 L170.86,341.62 L170.98,340.82 L171.10,339.99 L171.22,339.13 L171.34,338.23 L171.47,337.30 L171.59,336.34 L171.71,335.34 L171.83,334.33 L171.95,333.28 L172.07,332.21 L172.19,331.12 L172.32,330.00 L172.44,328.86 L172.56,327.71 L172.60,327.30 L172.68,326.51 L172.80,325.22 L172.92,323.84 L173.04,322.39 L173.16,320.90 L173.29,319.39 L173.41,317.87 L173.53,316.37 L173.65,314.91 L173.77,313.51 L173.89,312.18 L173.90,312.10 L174.01,310.80 L174.13,309.27 L174.26,307.75 L174.38,306.40 L174.50,305.41 L174.62,304.92 L174.65,304.90 L174.74,305.11 L174.86,305.96 L174.98,307.32 L175.11,309.07 L175.23,311.05 L175.35,313.12 L175.40,314.00 L175.47,315.25 L175.59,317.91 L175.71,321.06 L175.83,324.57 L175.95,328.34 L176.08,332.25 L176.20,336.20 L176.32,340.08 L176.40,342.60 L176.44,343.79 L176.56,347.48 L176.68,351.22 L176.80,355.01 L176.92,358.86 L177.05,362.76 L177.17,366.71 L177.29,370.72 L177.30,371.10 L177.41,374.20 L177.53,377.16 L177.65,380.91 L177.77,386.81 L177.80,388.50 L177.89,407.97 L177.95,418.00 L178.02,423.34 L178.14,431.39 L178.26,437.61 L178.38,442.48 L178.50,446.46 L178.62,450.03 L178.70,452.30 L178.74,453.64 L178.87,457.39 L178.99,461.08 L179.11,464.54 L179.23,467.56 L179.35,469.97 L179.47,471.58 L179.59,472.20 L179.60,472.20 L179.71,471.89 L179.84,470.97 L179.96,469.59 L180.08,467.86 L180.20,465.94 L180.32,463.96 L180.44,462.05 L180.56,460.35 L180.60,459.90 L180.68,458.88 L180.81,457.41 L180.93,455.93 L181.05,454.43 L181.17,452.94 L181.29,451.47 L181.41,450.02 L181.53,448.61 L181.66,447.24 L181.78,445.93 L181.90,444.69 L182.02,443.53 L182.10,442.80 L182.14,442.45 L182.26,441.41 L182.38,440.41 L182.50,439.44 L182.63,438.51 L182.75,437.59 L182.87,436.71 L182.99,435.85 L183.11,435.02 L183.23,434.21 L183.35,433.42 L183.47,432.65 L183.60,431.90 L183.72,431.16 L183.84,430.44 L183.96,429.73 L184.00,429.50 L184.08,429.03 L184.20,428.35 L184.32,427.68 L184.45,427.02 L184.57,426.37 L184.69,425.73 L184.81,425.10 L184.93,424.49 L185.05,423.88 L185.17,423.28 L185.29,422.70 L185.42,422.12 L185.54,421.55 L185.66,420.99 L185.78,420.44 L185.90,419.90 L186.02,419.36 L186.14,418.83 L186.26,418.31 L186.39,417.80 L186.51,417.29 L186.63,416.79 L186.75,416.30 L186.80,416.10 L186.87,415.81 L186.99,415.34 L187.11,414.87 L187.24,414.41 L187.36,413.95 L187.48,413.51 L187.60,413.07 L187.72,412.63 L187.84,412.20 L187.96,411.78 L188.08,411.37 L188.21,410.95 L188.33,410.54 L188.45,410.14 L188.57,409.74 L188.69,409.34 L188.81,408.95 L188.93,408.55 L189.05,408.16 L189.18,407.77 L189.30,407.38 L189.42,406.99 L189.54,406.60 L189.66,406.21 L189.78,405.82 L189.90,405.43 L190.03,405.04 L190.15,404.64 L190.27,404.24 L190.39,403.84 L190.51,403.44 L190.63,403.03 L190.70,402.80 L190.75,402.62 L190.87,402.20 L191.00,401.79 L191.12,401.37 L191.24,400.95 L191.36,400.53 L191.48,400.11 L191.60,399.69 L191.72,399.27 L191.84,398.85 L191.97,398.43 L192.09,398.01 L192.21,397.60 L192.33,397.18 L192.45,396.77 L192.57,396.35 L192.69,395.94 L192.82,395.54 L192.94,395.13 L193.06,394.73 L193.18,394.33 L193.30,393.94 L193.42,393.55 L193.50,393.30 L193.54,393.16 L193.66,392.78 L193.79,392.41 L193.91,392.04 L194.03,391.67 L194.15,391.30 L194.27,390.94 L194.39,390.58 L194.51,390.22 L194.63,389.86 L194.76,389.51 L194.88,389.15 L195.00,388.79 L195.12,388.43 L195.24,388.07 L195.36,387.71 L195.40,387.60 L195.48,387.35 L195.61,386.97 L195.73,386.59 L195.85,386.20 L195.97,385.81 L196.09,385.41 L196.21,385.02 L196.33,384.63 L196.45,384.25 L196.58,383.88 L196.70,383.51 L196.82,383.15 L196.94,382.81 L197.06,382.49 L197.18,382.18 L197.30,381.90 L197.30,381.89 L197.42,381.61 L197.55,381.33 L197.67,381.06 L197.79,380.79 L197.91,380.55 L198.03,380.32 L198.15,380.11 L198.27,379.94 L198.40,379.80 L198.40,379.80 L198.52,379.69 L198.64,379.58 L198.76,379.47 L198.88,379.37 L199.00,379.28 L199.12,379.21 L199.24,379.15 L199.37,379.12 L199.49,379.10 L199.50,379.10 L199.61,379.10 L199.73,379.11 L199.85,379.13 L199.97,379.16 L200.09,379.20 L200.21,379.25 L200.34,379.32 L200.46,379.40 L200.58,379.49 L200.70,379.60" fill="none" stroke="#f00" stroke-width="1.6" stroke-linejoin="round" stroke-linecap="butt"/>
<line x1="187.3" y1="295.4" x2="216.5" y2="295.4" stroke="#000" stroke-width="1.7"/>
<line x1="187.3" y1="310.9" x2="216.5" y2="310.9" stroke="#f00" stroke-width="1.7"/>
<text x="219.9" y="300.0" font-family='"Liberation Sans", Arial, sans-serif' font-size="12.75" font-weight="normal" text-anchor="start" fill="#0a0a0a" stroke="#0a0a0a" stroke-width="0.27">Columnar Phase</text>
<text x="219.9" y="315.6" font-family='"Liberation Sans", Arial, sans-serif' font-size="12.85" font-weight="normal" text-anchor="start" fill="#0a0a0a" stroke="#0a0a0a" stroke-width="0.27">Liquid phase</text>
<text x="39.7" y="461.5" font-family='"Liberation Sans", Arial, sans-serif' font-size="12.8" font-weight="normal" text-anchor="start" fill="#0a0a0a" stroke="#0a0a0a" stroke-width="0.27">External</text>
<text x="40.4" y="477.8" font-family='"Liberation Sans", Arial, sans-serif' font-size="12.95" font-weight="normal" text-anchor="start" fill="#0a0a0a" stroke="#0a0a0a" stroke-width="0.27">arc side</text>
<text x="293" y="462.4" font-family='"Liberation Sans", Arial, sans-serif' font-size="12.9" font-weight="normal" text-anchor="middle" fill="#0a0a0a" stroke="#0a0a0a" stroke-width="0.27">Inner</text>
<text x="293.1" y="478.2" font-family='"Liberation Sans", Arial, sans-serif' font-size="12.95" font-weight="normal" text-anchor="middle" fill="#0a0a0a" stroke="#0a0a0a" stroke-width="0.27">arc side</text>
<rect x="412.1" y="286.5" width="281.80" height="207.60" fill="none" stroke="#2b2b2b" stroke-width="1.25"/>
<line x1="440.28" y1="494.1" x2="440.28" y2="491.70000000000005" stroke="#2b2b2b" stroke-width="1.1"/>
<text x="412.1" y="507.9" font-family='"Liberation Sans", Arial, sans-serif' font-size="12" font-weight="normal" text-anchor="middle" fill="#0a0a0a" stroke="#0a0a0a" stroke-width="0.27">-0.125</text>
<line x1="468.46" y1="494.1" x2="468.46" y2="489.90000000000003" stroke="#2b2b2b" stroke-width="1.1"/>
<line x1="496.64" y1="494.1" x2="496.64" y2="491.70000000000005" stroke="#2b2b2b" stroke-width="1.1"/>
<text x="468.46" y="507.9" font-family='"Liberation Sans", Arial, sans-serif' font-size="12" font-weight="normal" text-anchor="middle" fill="#0a0a0a" stroke="#0a0a0a" stroke-width="0.27">-0.075</text>
<line x1="524.82" y1="494.1" x2="524.82" y2="489.90000000000003" stroke="#2b2b2b" stroke-width="1.1"/>
<line x1="553.00" y1="494.1" x2="553.00" y2="491.70000000000005" stroke="#2b2b2b" stroke-width="1.1"/>
<text x="524.82" y="507.9" font-family='"Liberation Sans", Arial, sans-serif' font-size="12" font-weight="normal" text-anchor="middle" fill="#0a0a0a" stroke="#0a0a0a" stroke-width="0.27">-0.025</text>
<line x1="581.18" y1="494.1" x2="581.18" y2="489.90000000000003" stroke="#2b2b2b" stroke-width="1.1"/>
<line x1="609.36" y1="494.1" x2="609.36" y2="491.70000000000005" stroke="#2b2b2b" stroke-width="1.1"/>
<text x="581.18" y="507.9" font-family='"Liberation Sans", Arial, sans-serif' font-size="12" font-weight="normal" text-anchor="middle" fill="#0a0a0a" stroke="#0a0a0a" stroke-width="0.27">0.025</text>
<line x1="637.54" y1="494.1" x2="637.54" y2="489.90000000000003" stroke="#2b2b2b" stroke-width="1.1"/>
<line x1="665.72" y1="494.1" x2="665.72" y2="491.70000000000005" stroke="#2b2b2b" stroke-width="1.1"/>
<text x="637.54" y="507.9" font-family='"Liberation Sans", Arial, sans-serif' font-size="12" font-weight="normal" text-anchor="middle" fill="#0a0a0a" stroke="#0a0a0a" stroke-width="0.27">0.075</text>
<text x="693.9" y="507.9" font-family='"Liberation Sans", Arial, sans-serif' font-size="12" font-weight="normal" text-anchor="middle" fill="#0a0a0a" stroke="#0a0a0a" stroke-width="0.27">0.125</text>
<line x1="412.1" y1="312.45" x2="414.5" y2="312.45" stroke="#2b2b2b" stroke-width="1.1"/>
<text x="407.3" y="289.9" font-family='"Liberation Sans", Arial, sans-serif' font-size="12" font-weight="normal" text-anchor="end" fill="#0a0a0a" stroke="#0a0a0a" stroke-width="0.27">1.10</text>
<line x1="412.1" y1="338.40" x2="416.3" y2="338.40" stroke="#2b2b2b" stroke-width="1.1"/>
<line x1="412.1" y1="364.35" x2="414.5" y2="364.35" stroke="#2b2b2b" stroke-width="1.1"/>
<text x="407.3" y="341.8" font-family='"Liberation Sans", Arial, sans-serif' font-size="12" font-weight="normal" text-anchor="end" fill="#0a0a0a" stroke="#0a0a0a" stroke-width="0.27">0.85</text>
<line x1="412.1" y1="390.30" x2="416.3" y2="390.30" stroke="#2b2b2b" stroke-width="1.1"/>
<line x1="412.1" y1="416.25" x2="414.5" y2="416.25" stroke="#2b2b2b" stroke-width="1.1"/>
<text x="407.3" y="393.7" font-family='"Liberation Sans", Arial, sans-serif' font-size="12" font-weight="normal" text-anchor="end" fill="#0a0a0a" stroke="#0a0a0a" stroke-width="0.27">0.60</text>
<line x1="412.1" y1="442.20" x2="416.3" y2="442.20" stroke="#2b2b2b" stroke-width="1.1"/>
<line x1="412.1" y1="468.15" x2="414.5" y2="468.15" stroke="#2b2b2b" stroke-width="1.1"/>
<text x="407.3" y="445.6" font-family='"Liberation Sans", Arial, sans-serif' font-size="12" font-weight="normal" text-anchor="end" fill="#0a0a0a" stroke="#0a0a0a" stroke-width="0.27">0.35</text>
<text x="407.3" y="497.5" font-family='"Liberation Sans", Arial, sans-serif' font-size="12" font-weight="normal" text-anchor="end" fill="#0a0a0a" stroke="#0a0a0a" stroke-width="0.27">0.10</text>
<text x="554.1" y="526.3" font-family='"Liberation Sans", Arial, sans-serif' font-size="14.55" font-weight="normal" text-anchor="middle" fill="#0a0a0a" stroke="#0a0a0a" stroke-width="0.27">X, m</text>
<text x="553.6" y="548.2" font-family='"Liberation Serif", "Times New Roman", serif' font-size="16.2" font-weight="bold" text-anchor="middle" fill="#0a0a0a" stroke="#0a0a0a" stroke-width="0.27">(d)</text>
<text x="373.1" y="393.8" font-family='"Liberation Sans", Arial, sans-serif' font-size="14.36" font-weight="normal" text-anchor="middle" fill="#0a0a0a" stroke="#0a0a0a" stroke-width="0.27" transform="rotate(-90 373.1 393.8)">Cooling rate, K/s</text>
<line x1="519.2" y1="472.9" x2="535.6" y2="371.6" stroke="#000" stroke-width="1.7" stroke-dasharray="7.4 6.2"/>
<line x1="586.2" y1="472.9" x2="571.0" y2="371.6" stroke="#000" stroke-width="1.7" stroke-dasharray="7.4 6.2"/>
<path d="M412.10,472.10 L412.50,471.95 L412.91,471.80 L413.31,471.65 L413.71,471.50 L414.12,471.35 L414.52,471.20 L414.92,471.06 L415.33,470.91 L415.73,470.77 L416.13,470.62 L416.53,470.48 L416.94,470.34 L417.34,470.20 L417.74,470.06 L418.15,469.92 L418.50,469.80 L418.55,469.78 L418.95,469.65 L419.36,469.51 L419.76,469.38 L420.16,469.25 L420.57,469.12 L420.97,468.99 L421.37,468.86 L421.78,468.74 L422.18,468.61 L422.58,468.48 L422.98,468.36 L423.39,468.23 L423.79,468.10 L424.19,467.98 L424.60,467.85 L425.00,467.72 L425.40,467.59 L425.81,467.46 L426.21,467.33 L426.61,467.20 L426.90,467.10 L427.02,467.06 L427.42,466.92 L427.82,466.78 L428.23,466.64 L428.63,466.50 L429.03,466.35 L429.44,466.21 L429.84,466.06 L430.24,465.91 L430.64,465.76 L431.05,465.62 L431.45,465.47 L431.85,465.32 L432.26,465.17 L432.66,465.03 L433.06,464.89 L433.47,464.74 L433.87,464.61 L434.27,464.47 L434.68,464.33 L435.08,464.20 L435.40,464.10 L435.48,464.07 L435.89,463.95 L436.29,463.82 L436.69,463.70 L437.10,463.58 L437.50,463.46 L437.90,463.34 L438.30,463.22 L438.71,463.10 L439.11,462.99 L439.51,462.87 L439.92,462.76 L440.32,462.64 L440.72,462.53 L441.13,462.42 L441.53,462.31 L441.93,462.20 L442.34,462.09 L442.74,461.98 L443.14,461.87 L443.55,461.77 L443.80,461.70 L443.95,461.66 L444.35,461.55 L444.75,461.45 L445.16,461.34 L445.56,461.24 L445.96,461.13 L446.37,461.03 L446.77,460.93 L447.17,460.82 L447.58,460.72 L447.98,460.62 L448.38,460.52 L448.79,460.42 L449.19,460.32 L449.59,460.23 L450.00,460.13 L450.40,460.03 L450.80,459.94 L451.21,459.85 L451.61,459.75 L452.01,459.66 L452.30,459.60 L452.41,459.57 L452.82,459.49 L453.22,459.40 L453.62,459.31 L454.03,459.22 L454.43,459.14 L454.83,459.05 L455.24,458.96 L455.64,458.88 L456.04,458.80 L456.45,458.71 L456.85,458.63 L457.25,458.55 L457.66,458.47 L458.06,458.39 L458.46,458.32 L458.87,458.24 L459.27,458.17 L459.67,458.09 L460.07,458.02 L460.48,457.95 L460.80,457.90 L460.88,457.89 L461.28,457.82 L461.69,457.76 L462.09,457.69 L462.49,457.63 L462.90,457.57 L463.30,457.51 L463.70,457.45 L464.11,457.39 L464.51,457.33 L464.91,457.27 L465.32,457.21 L465.72,457.16 L466.12,457.10 L466.52,457.05 L466.93,456.99 L467.33,456.94 L467.73,456.89 L468.14,456.84 L468.54,456.78 L468.94,456.73 L469.20,456.70 L469.35,456.68 L469.75,456.63 L470.15,456.59 L470.56,456.54 L470.96,456.50 L471.36,456.45 L471.77,456.41 L472.17,456.36 L472.57,456.31 L472.98,456.27 L473.38,456.22 L473.50,456.20 L473.78,456.16 L474.18,456.11 L474.59,456.05 L474.99,455.99 L475.39,455.92 L475.80,455.86 L476.20,455.79 L476.60,455.73 L477.01,455.66 L477.41,455.59 L477.81,455.53 L478.22,455.46 L478.62,455.39 L479.02,455.32 L479.43,455.26 L479.83,455.20 L480.23,455.13 L480.64,455.07 L481.04,455.02 L481.44,454.96 L481.84,454.91 L481.90,454.90 L482.25,454.86 L482.65,454.80 L483.05,454.75 L483.46,454.70 L483.86,454.65 L484.26,454.59 L484.67,454.54 L485.07,454.49 L485.47,454.44 L485.88,454.39 L486.28,454.34 L486.68,454.30 L487.09,454.25 L487.49,454.21 L487.89,454.17 L488.29,454.14 L488.70,454.10 L489.10,454.07 L489.50,454.05 L489.91,454.02 L490.31,454.00 L490.40,454.00 L490.71,453.99 L491.12,453.97 L491.52,453.96 L491.92,453.94 L492.33,453.93 L492.73,453.92 L493.13,453.90 L493.54,453.89 L493.94,453.88 L494.34,453.87 L494.75,453.86 L495.15,453.85 L495.55,453.84 L495.95,453.83 L496.36,453.82 L496.76,453.82 L497.16,453.81 L497.57,453.81 L497.97,453.80 L498.37,453.80 L498.78,453.80 L498.80,453.80 L499.18,453.80 L499.58,453.81 L499.99,453.81 L500.39,453.82 L500.79,453.84 L501.20,453.85 L501.60,453.87 L502.00,453.89 L502.41,453.92 L502.81,453.94 L503.21,453.97 L503.61,454.00 L504.02,454.03 L504.42,454.06 L504.82,454.09 L505.23,454.12 L505.63,454.16 L506.03,454.19 L506.44,454.23 L506.84,454.26 L507.24,454.30 L507.30,454.30 L507.65,454.33 L508.05,454.37 L508.45,454.42 L508.86,454.47 L509.26,454.52 L509.66,454.58 L510.06,454.64 L510.47,454.71 L510.87,454.77 L511.27,454.84 L511.68,454.91 L512.08,454.99 L512.48,455.06 L512.89,455.14 L513.29,455.21 L513.69,455.29 L514.10,455.37 L514.50,455.45 L514.90,455.53 L515.31,455.60 L515.71,455.68 L515.80,455.70 L516.11,455.76 L516.52,455.84 L516.92,455.92 L517.32,456.00 L517.72,456.08 L518.13,456.16 L518.53,456.24 L518.93,456.33 L519.34,456.41 L519.74,456.50 L520.14,456.59 L520.55,456.68 L520.95,456.77 L521.35,456.86 L521.76,456.96 L522.16,457.06 L522.56,457.15 L522.97,457.26 L523.37,457.36 L523.77,457.46 L524.17,457.57 L524.58,457.68 L524.98,457.79 L525.00,457.80 L525.38,457.91 L525.79,458.03 L526.19,458.16 L526.59,458.30 L527.00,458.43 L527.40,458.58 L527.80,458.73 L528.21,458.88 L528.50,459.00 L528.61,459.04 L529.01,459.21 L529.42,459.37 L529.82,459.55 L530.22,459.73 L530.63,459.91 L531.03,460.11 L531.43,460.32 L531.83,460.54 L532.24,460.78 L532.60,461.00 L532.64,461.03 L533.04,461.30 L533.45,461.61 L533.85,461.95 L534.25,462.31 L534.66,462.69 L535.06,463.09 L535.46,463.50 L535.87,463.92 L536.27,464.35 L536.50,464.60 L536.67,464.79 L537.08,465.25 L537.48,465.73 L537.88,466.23 L538.29,466.75 L538.69,467.29 L539.09,467.83 L539.49,468.37 L539.90,468.92 L540.30,469.47 L540.70,470.00 L540.70,470.01 L541.11,470.55 L541.51,471.11 L541.91,471.67 L542.32,472.24 L542.72,472.82 L543.12,473.38 L543.53,473.94 L543.93,474.49 L544.33,475.02 L544.74,475.52 L544.80,475.60 L545.14,476.02 L545.54,476.53 L545.94,477.00 L546.35,477.40 L546.60,477.60 L546.75,477.70 L547.15,477.98 L547.56,478.22 L547.96,478.37 L548.20,478.40 L548.36,478.38 L548.77,478.19 L549.17,477.84 L549.57,477.43 L549.60,477.40 L549.98,476.80 L550.38,475.91 L550.78,475.03 L550.80,475.00 L551.19,474.23 L551.59,473.44 L551.99,472.91 L552.00,472.90 L552.40,472.59 L552.80,472.41 L552.90,472.40 L553.20,472.48 L553.60,472.74 L553.80,472.90 L554.01,473.13 L554.41,473.82 L554.81,474.64 L555.00,475.00 L555.22,475.45 L555.62,476.37 L556.02,477.16 L556.20,477.40 L556.43,477.64 L556.83,478.03 L557.23,478.31 L557.60,478.40 L557.64,478.40 L558.04,478.31 L558.44,478.11 L558.85,477.85 L559.20,477.60 L559.25,477.57 L559.65,477.21 L560.06,476.77 L560.46,476.28 L560.86,475.77 L561.00,475.60 L561.26,475.27 L561.67,474.76 L562.07,474.22 L562.47,473.67 L562.88,473.10 L563.28,472.53 L563.68,471.96 L564.09,471.39 L564.49,470.83 L564.89,470.28 L565.10,470.00 L565.30,469.74 L565.70,469.20 L566.10,468.65 L566.51,468.10 L566.91,467.56 L567.31,467.02 L567.71,466.49 L568.12,465.98 L568.52,465.49 L568.92,465.02 L569.30,464.60 L569.33,464.57 L569.73,464.14 L570.13,463.71 L570.54,463.30 L570.94,462.89 L571.34,462.50 L571.75,462.13 L572.15,461.78 L572.55,461.46 L572.96,461.16 L573.20,461.00 L573.36,460.90 L573.76,460.66 L574.17,460.43 L574.57,460.21 L574.97,460.01 L575.37,459.82 L575.78,459.64 L576.18,459.46 L576.58,459.29 L576.99,459.13 L577.30,459.00 L577.39,458.96 L577.79,458.81 L578.20,458.65 L578.60,458.51 L579.00,458.36 L579.41,458.23 L579.81,458.10 L580.21,457.97 L580.62,457.85 L580.80,457.80 L581.02,457.74 L581.42,457.63 L581.83,457.52 L582.23,457.41 L582.63,457.31 L583.03,457.21 L583.44,457.10 L583.84,457.01 L584.24,456.91 L584.65,456.82 L585.05,456.72 L585.45,456.63 L585.86,456.54 L586.26,456.46 L586.66,456.37 L587.07,456.28 L587.47,456.20 L587.87,456.12 L588.28,456.04 L588.68,455.96 L589.08,455.88 L589.48,455.80 L589.89,455.72 L590.00,455.70 L590.29,455.64 L590.69,455.57 L591.10,455.49 L591.50,455.41 L591.90,455.33 L592.31,455.25 L592.71,455.17 L593.11,455.10 L593.52,455.02 L593.92,454.95 L594.32,454.88 L594.73,454.81 L595.13,454.74 L595.53,454.67 L595.94,454.61 L596.34,454.55 L596.74,454.50 L597.14,454.44 L597.55,454.40 L597.95,454.35 L598.35,454.31 L598.50,454.30 L598.76,454.28 L599.16,454.24 L599.56,454.21 L599.97,454.17 L600.37,454.14 L600.77,454.11 L601.18,454.07 L601.58,454.04 L601.98,454.01 L602.39,453.98 L602.79,453.96 L603.19,453.93 L603.59,453.91 L604.00,453.88 L604.40,453.86 L604.80,453.85 L605.21,453.83 L605.61,453.82 L606.01,453.81 L606.42,453.80 L606.82,453.80 L607.00,453.80 L607.22,453.80 L607.63,453.80 L608.03,453.80 L608.43,453.81 L608.84,453.81 L609.24,453.82 L609.64,453.82 L610.05,453.83 L610.45,453.84 L610.85,453.85 L611.25,453.86 L611.66,453.87 L612.06,453.88 L612.46,453.90 L612.87,453.91 L613.27,453.92 L613.67,453.94 L614.08,453.95 L614.48,453.97 L614.88,453.98 L615.29,454.00 L615.40,454.00 L615.69,454.01 L616.09,454.03 L616.50,454.06 L616.90,454.09 L617.30,454.12 L617.71,454.15 L618.11,454.19 L618.51,454.23 L618.91,454.27 L619.32,454.32 L619.72,454.37 L620.12,454.41 L620.53,454.46 L620.93,454.52 L621.33,454.57 L621.74,454.62 L622.14,454.67 L622.54,454.73 L622.95,454.78 L623.35,454.83 L623.75,454.88 L623.90,454.90 L624.16,454.93 L624.56,454.99 L624.96,455.04 L625.36,455.10 L625.77,455.16 L626.17,455.23 L626.57,455.29 L626.98,455.36 L627.38,455.42 L627.78,455.49 L628.19,455.56 L628.59,455.63 L628.99,455.69 L629.40,455.76 L629.80,455.83 L630.20,455.89 L630.61,455.96 L631.01,456.02 L631.41,456.08 L631.82,456.13 L632.22,456.19 L632.30,456.20 L632.62,456.24 L633.02,456.29 L633.43,456.34 L633.83,456.38 L634.23,456.43 L634.64,456.47 L635.04,456.52 L635.44,456.56 L635.85,456.61 L636.25,456.66 L636.60,456.70 L636.65,456.71 L637.06,456.76 L637.46,456.81 L637.86,456.86 L638.27,456.91 L638.67,456.97 L639.07,457.02 L639.48,457.08 L639.88,457.13 L640.28,457.19 L640.68,457.24 L641.09,457.30 L641.49,457.36 L641.89,457.42 L642.30,457.47 L642.70,457.54 L643.10,457.60 L643.51,457.66 L643.91,457.72 L644.31,457.79 L644.72,457.85 L645.00,457.90 L645.12,457.92 L645.52,457.99 L645.93,458.06 L646.33,458.13 L646.73,458.20 L647.13,458.28 L647.54,458.35 L647.94,458.43 L648.34,458.51 L648.75,458.59 L649.15,458.67 L649.55,458.75 L649.96,458.84 L650.36,458.92 L650.76,459.01 L651.17,459.09 L651.57,459.18 L651.97,459.27 L652.38,459.35 L652.78,459.44 L653.18,459.53 L653.50,459.60 L653.59,459.62 L653.99,459.71 L654.39,459.80 L654.79,459.89 L655.20,459.99 L655.60,460.08 L656.00,460.18 L656.41,460.27 L656.81,460.37 L657.21,460.47 L657.62,460.57 L658.02,460.67 L658.42,460.77 L658.83,460.87 L659.23,460.98 L659.63,461.08 L660.04,461.18 L660.44,461.29 L660.84,461.39 L661.25,461.50 L661.65,461.61 L662.00,461.70 L662.05,461.71 L662.45,461.82 L662.86,461.93 L663.26,462.04 L663.66,462.15 L664.07,462.25 L664.47,462.36 L664.87,462.48 L665.28,462.59 L665.68,462.70 L666.08,462.81 L666.49,462.93 L666.89,463.04 L667.29,463.16 L667.70,463.28 L668.10,463.40 L668.50,463.52 L668.90,463.64 L669.31,463.76 L669.71,463.88 L670.11,464.01 L670.40,464.10 L670.52,464.14 L670.92,464.27 L671.32,464.40 L671.73,464.54 L672.13,464.67 L672.53,464.81 L672.94,464.96 L673.34,465.10 L673.74,465.25 L674.15,465.39 L674.55,465.54 L674.95,465.69 L675.36,465.84 L675.76,465.98 L676.16,466.13 L676.56,466.28 L676.97,466.42 L677.37,466.57 L677.77,466.71 L678.18,466.85 L678.58,466.99 L678.90,467.10 L678.98,467.13 L679.39,467.26 L679.79,467.40 L680.19,467.53 L680.60,467.66 L681.00,467.79 L681.40,467.92 L681.81,468.04 L682.21,468.17 L682.61,468.30 L683.02,468.42 L683.42,468.55 L683.82,468.68 L684.22,468.81 L684.63,468.93 L685.03,469.06 L685.43,469.19 L685.84,469.32 L686.24,469.45 L686.64,469.58 L687.05,469.72 L687.30,469.80 L687.45,469.85 L687.85,469.99 L688.26,470.12 L688.66,470.26 L689.06,470.40 L689.47,470.54 L689.87,470.67 L690.27,470.81 L690.67,470.96 L691.08,471.10 L691.48,471.24 L691.88,471.38 L692.29,471.52 L692.69,471.67 L693.09,471.81 L693.50,471.95 L693.90,472.10" fill="none" stroke="#000" stroke-width="1.8" stroke-linejoin="round" stroke-linecap="butt"/>
<path d="M412.10,473.60 L412.50,473.44 L412.91,473.27 L413.31,473.11 L413.71,472.95 L414.12,472.78 L414.52,472.62 L414.92,472.46 L415.33,472.31 L415.73,472.15 L416.13,471.99 L416.53,471.84 L416.94,471.68 L417.34,471.53 L417.74,471.38 L418.15,471.23 L418.50,471.10 L418.55,471.08 L418.95,470.93 L419.36,470.79 L419.76,470.64 L420.16,470.50 L420.57,470.36 L420.97,470.22 L421.37,470.08 L421.78,469.94 L422.18,469.80 L422.58,469.66 L422.98,469.53 L423.39,469.39 L423.79,469.25 L424.19,469.12 L424.60,468.98 L425.00,468.85 L425.40,468.71 L425.81,468.57 L426.21,468.44 L426.61,468.30 L426.90,468.20 L427.02,468.16 L427.42,468.02 L427.82,467.88 L428.23,467.74 L428.63,467.60 L429.03,467.46 L429.44,467.32 L429.84,467.17 L430.24,467.03 L430.64,466.89 L431.05,466.75 L431.45,466.61 L431.85,466.47 L432.26,466.33 L432.66,466.20 L433.06,466.06 L433.47,465.92 L433.87,465.79 L434.27,465.66 L434.68,465.53 L435.08,465.40 L435.40,465.30 L435.48,465.27 L435.89,465.15 L436.29,465.03 L436.69,464.90 L437.10,464.78 L437.50,464.66 L437.90,464.54 L438.30,464.43 L438.71,464.31 L439.11,464.19 L439.51,464.08 L439.92,463.96 L440.32,463.85 L440.72,463.74 L441.13,463.62 L441.53,463.51 L441.93,463.40 L442.34,463.29 L442.74,463.18 L443.14,463.08 L443.55,462.97 L443.80,462.90 L443.95,462.86 L444.35,462.75 L444.75,462.65 L445.16,462.54 L445.56,462.44 L445.96,462.33 L446.37,462.23 L446.77,462.13 L447.17,462.02 L447.58,461.92 L447.98,461.82 L448.38,461.72 L448.79,461.62 L449.19,461.52 L449.59,461.43 L450.00,461.33 L450.40,461.23 L450.80,461.14 L451.21,461.05 L451.61,460.95 L452.01,460.86 L452.30,460.80 L452.41,460.77 L452.82,460.69 L453.22,460.60 L453.62,460.51 L454.03,460.42 L454.43,460.34 L454.83,460.25 L455.24,460.16 L455.64,460.08 L456.04,460.00 L456.45,459.91 L456.85,459.83 L457.25,459.75 L457.66,459.67 L458.06,459.59 L458.46,459.52 L458.87,459.44 L459.27,459.37 L459.67,459.29 L460.07,459.22 L460.48,459.15 L460.80,459.10 L460.88,459.09 L461.28,459.02 L461.69,458.96 L462.09,458.89 L462.49,458.83 L462.90,458.77 L463.30,458.71 L463.70,458.65 L464.11,458.60 L464.51,458.54 L464.91,458.48 L465.32,458.43 L465.72,458.37 L466.12,458.32 L466.52,458.26 L466.93,458.21 L467.33,458.15 L467.73,458.10 L468.14,458.05 L468.54,457.99 L468.94,457.94 L469.20,457.90 L469.35,457.88 L469.75,457.82 L470.15,457.77 L470.56,457.71 L470.96,457.66 L471.36,457.60 L471.77,457.55 L472.17,457.49 L472.57,457.44 L472.98,457.38 L473.38,457.33 L473.78,457.28 L474.18,457.22 L474.59,457.17 L474.99,457.11 L475.39,457.06 L475.80,457.01 L476.20,456.95 L476.60,456.90 L477.01,456.85 L477.41,456.79 L477.81,456.74 L478.22,456.69 L478.62,456.63 L479.02,456.58 L479.43,456.53 L479.83,456.47 L480.23,456.42 L480.64,456.37 L481.04,456.31 L481.44,456.26 L481.84,456.21 L481.90,456.20 L482.25,456.15 L482.65,456.10 L483.05,456.05 L483.46,455.99 L483.86,455.94 L484.26,455.88 L484.67,455.83 L485.07,455.77 L485.47,455.72 L485.88,455.66 L486.28,455.61 L486.68,455.56 L487.09,455.50 L487.49,455.45 L487.89,455.40 L488.29,455.35 L488.70,455.30 L489.10,455.25 L489.50,455.20 L489.91,455.16 L490.31,455.11 L490.40,455.10 L490.71,455.07 L491.12,455.03 L491.52,454.99 L491.92,454.95 L492.33,454.92 L492.73,454.88 L493.13,454.85 L493.54,454.82 L493.94,454.79 L494.34,454.76 L494.75,454.73 L495.15,454.69 L495.55,454.66 L495.95,454.63 L496.36,454.59 L496.76,454.55 L497.16,454.51 L497.57,454.46 L497.97,454.41 L498.37,454.36 L498.78,454.30 L498.80,454.30 L499.18,454.24 L499.58,454.16 L499.99,454.08 L500.39,453.99 L500.79,453.88 L501.20,453.77 L501.60,453.66 L502.00,453.53 L502.41,453.41 L502.81,453.27 L503.21,453.14 L503.61,453.00 L504.02,452.86 L504.42,452.72 L504.82,452.57 L505.23,452.43 L505.60,452.30 L505.63,452.29 L506.03,452.15 L506.44,452.00 L506.84,451.85 L507.24,451.70 L507.65,451.54 L508.05,451.37 L508.45,451.21 L508.86,451.04 L509.26,450.87 L509.66,450.69 L510.06,450.51 L510.47,450.33 L510.87,450.14 L511.27,449.95 L511.68,449.75 L512.08,449.56 L512.40,449.40 L512.48,449.36 L512.89,449.15 L513.29,448.94 L513.69,448.71 L514.10,448.49 L514.50,448.25 L514.90,448.01 L515.31,447.77 L515.71,447.52 L516.11,447.27 L516.52,447.02 L516.92,446.77 L517.32,446.51 L517.50,446.40 L517.72,446.26 L518.13,446.00 L518.53,445.74 L518.93,445.48 L519.34,445.22 L519.74,444.95 L520.14,444.68 L520.55,444.41 L520.95,444.13 L521.35,443.84 L521.76,443.55 L522.16,443.26 L522.50,443.00 L522.56,442.95 L522.97,442.65 L523.37,442.33 L523.77,442.01 L524.17,441.67 L524.58,441.31 L524.98,440.92 L525.00,440.90 L525.38,440.49 L525.79,440.03 L526.19,439.54 L526.59,439.01 L527.00,438.46 L527.40,437.89 L527.80,437.29 L528.00,437.00 L528.21,436.68 L528.61,436.03 L529.01,435.34 L529.42,434.62 L529.82,433.88 L530.22,433.11 L530.63,432.33 L531.03,431.54 L531.43,430.75 L531.83,429.97 L532.24,429.19 L532.60,428.50 L532.64,428.42 L533.04,427.67 L533.45,426.92 L533.85,426.17 L534.25,425.41 L534.66,424.65 L535.06,423.87 L535.46,423.08 L535.80,422.40 L535.87,422.27 L536.27,421.47 L536.67,420.68 L537.08,419.88 L537.48,419.02 L537.88,418.09 L538.29,417.04 L538.30,417.00 L538.69,415.80 L539.09,414.33 L539.49,412.74 L539.90,411.10 L540.30,409.50 L540.30,409.50 L540.70,407.94 L541.11,406.36 L541.51,404.76 L541.91,403.16 L542.32,401.54 L542.70,400.00 L542.72,399.92 L543.12,398.31 L543.53,396.70 L543.93,395.07 L544.33,393.40 L544.74,391.68 L544.80,391.40 L545.14,389.87 L545.54,387.97 L545.94,386.01 L546.35,384.04 L546.75,382.09 L547.15,380.21 L547.20,380.00 L547.56,378.37 L547.96,376.52 L548.36,374.70 L548.77,372.97 L549.17,371.35 L549.40,370.50 L549.57,369.87 L549.98,368.40 L550.38,366.98 L550.78,365.73 L551.19,364.76 L551.40,364.40 L551.59,364.14 L551.99,363.62 L552.40,363.21 L552.80,363.01 L552.90,363.00 L553.20,363.08 L553.60,363.39 L554.01,363.86 L554.40,364.40 L554.41,364.42 L554.81,365.20 L555.22,366.32 L555.62,367.67 L556.02,369.13 L556.40,370.50 L556.43,370.60 L556.83,372.13 L557.23,373.82 L557.64,375.60 L558.04,377.44 L558.44,379.28 L558.60,380.00 L558.85,381.13 L559.25,383.05 L559.65,385.01 L560.06,386.98 L560.46,388.92 L560.86,390.78 L561.00,391.40 L561.26,392.55 L561.67,394.24 L562.07,395.88 L562.47,397.50 L562.88,399.11 L563.10,400.00 L563.28,400.73 L563.68,402.34 L564.09,403.95 L564.49,405.56 L564.89,407.14 L565.30,408.71 L565.50,409.50 L565.70,410.28 L566.10,411.91 L566.51,413.54 L566.91,415.08 L567.31,416.45 L567.50,417.00 L567.71,417.58 L568.12,418.56 L568.52,419.46 L568.92,420.28 L569.33,421.07 L569.73,421.86 L570.00,422.40 L570.13,422.67 L570.54,423.47 L570.94,424.26 L571.34,425.03 L571.75,425.79 L572.15,426.54 L572.55,427.29 L572.96,428.04 L573.20,428.50 L573.36,428.80 L573.76,429.57 L574.17,430.36 L574.57,431.15 L574.97,431.94 L575.37,432.72 L575.78,433.49 L576.18,434.25 L576.58,434.98 L576.99,435.69 L577.39,436.36 L577.79,436.99 L577.80,437.00 L578.20,437.59 L578.60,438.17 L579.00,438.74 L579.41,439.27 L579.81,439.78 L580.21,440.26 L580.62,440.71 L580.80,440.90 L581.02,441.12 L581.42,441.49 L581.83,441.84 L582.23,442.17 L582.63,442.49 L583.03,442.80 L583.30,443.00 L583.44,443.10 L583.84,443.40 L584.24,443.70 L584.65,443.99 L585.05,444.27 L585.45,444.55 L585.86,444.82 L586.26,445.09 L586.66,445.35 L587.07,445.61 L587.47,445.87 L587.87,446.13 L588.28,446.38 L588.30,446.40 L588.68,446.64 L589.08,446.89 L589.48,447.15 L589.89,447.40 L590.29,447.65 L590.69,447.89 L591.10,448.13 L591.50,448.37 L591.90,448.60 L592.31,448.83 L592.71,449.04 L593.11,449.25 L593.40,449.40 L593.52,449.46 L593.92,449.66 L594.32,449.85 L594.73,450.04 L595.13,450.23 L595.53,450.42 L595.94,450.60 L596.34,450.78 L596.74,450.95 L597.14,451.12 L597.55,451.29 L597.95,451.46 L598.35,451.62 L598.76,451.77 L599.16,451.92 L599.56,452.07 L599.97,452.22 L600.20,452.30 L600.37,452.36 L600.77,452.50 L601.18,452.64 L601.58,452.79 L601.98,452.93 L602.39,453.07 L602.79,453.21 L603.19,453.34 L603.59,453.47 L604.00,453.60 L604.40,453.72 L604.80,453.83 L605.21,453.94 L605.61,454.03 L606.01,454.12 L606.42,454.20 L606.82,454.27 L607.00,454.30 L607.22,454.33 L607.63,454.39 L608.03,454.44 L608.43,454.48 L608.84,454.53 L609.24,454.57 L609.64,454.61 L610.05,454.64 L610.45,454.68 L610.85,454.71 L611.25,454.74 L611.66,454.77 L612.06,454.81 L612.46,454.84 L612.87,454.87 L613.27,454.90 L613.67,454.93 L614.08,454.97 L614.48,455.01 L614.88,455.05 L615.29,455.09 L615.40,455.10 L615.69,455.13 L616.09,455.18 L616.50,455.23 L616.90,455.27 L617.30,455.32 L617.71,455.37 L618.11,455.42 L618.51,455.48 L618.91,455.53 L619.32,455.58 L619.72,455.64 L620.12,455.69 L620.53,455.75 L620.93,455.80 L621.33,455.85 L621.74,455.91 L622.14,455.96 L622.54,456.02 L622.95,456.07 L623.35,456.13 L623.75,456.18 L623.90,456.20 L624.16,456.23 L624.56,456.29 L624.96,456.34 L625.36,456.39 L625.77,456.45 L626.17,456.50 L626.57,456.55 L626.98,456.61 L627.38,456.66 L627.78,456.71 L628.19,456.76 L628.59,456.82 L628.99,456.87 L629.40,456.93 L629.80,456.98 L630.20,457.03 L630.61,457.09 L631.01,457.14 L631.41,457.19 L631.82,457.25 L632.22,457.30 L632.62,457.36 L633.02,457.41 L633.43,457.47 L633.83,457.52 L634.23,457.58 L634.64,457.63 L635.04,457.69 L635.44,457.74 L635.85,457.80 L636.25,457.85 L636.60,457.90 L636.65,457.91 L637.06,457.96 L637.46,458.02 L637.86,458.07 L638.27,458.13 L638.67,458.18 L639.07,458.24 L639.48,458.29 L639.88,458.34 L640.28,458.40 L640.68,458.45 L641.09,458.51 L641.49,458.57 L641.89,458.62 L642.30,458.68 L642.70,458.74 L643.10,458.80 L643.51,458.86 L643.91,458.92 L644.31,458.99 L644.72,459.05 L645.00,459.10 L645.12,459.12 L645.52,459.19 L645.93,459.26 L646.33,459.33 L646.73,459.40 L647.13,459.48 L647.54,459.55 L647.94,459.63 L648.34,459.71 L648.75,459.79 L649.15,459.87 L649.55,459.95 L649.96,460.04 L650.36,460.12 L650.76,460.21 L651.17,460.29 L651.57,460.38 L651.97,460.47 L652.38,460.55 L652.78,460.64 L653.18,460.73 L653.50,460.80 L653.59,460.82 L653.99,460.91 L654.39,461.00 L654.79,461.09 L655.20,461.19 L655.60,461.28 L656.00,461.38 L656.41,461.47 L656.81,461.57 L657.21,461.67 L657.62,461.77 L658.02,461.87 L658.42,461.97 L658.83,462.07 L659.23,462.18 L659.63,462.28 L660.04,462.38 L660.44,462.49 L660.84,462.59 L661.25,462.70 L661.65,462.81 L662.00,462.90 L662.05,462.91 L662.45,463.02 L662.86,463.13 L663.26,463.24 L663.66,463.35 L664.07,463.46 L664.47,463.57 L664.87,463.68 L665.28,463.79 L665.68,463.90 L666.08,464.02 L666.49,464.13 L666.89,464.25 L667.29,464.37 L667.70,464.48 L668.10,464.60 L668.50,464.72 L668.90,464.84 L669.31,464.96 L669.71,465.09 L670.11,465.21 L670.40,465.30 L670.52,465.34 L670.92,465.46 L671.32,465.59 L671.73,465.72 L672.13,465.86 L672.53,465.99 L672.94,466.13 L673.34,466.26 L673.74,466.40 L674.15,466.54 L674.55,466.68 L674.95,466.82 L675.36,466.96 L675.76,467.10 L676.16,467.25 L676.56,467.39 L676.97,467.53 L677.37,467.67 L677.77,467.81 L678.18,467.95 L678.58,468.09 L678.90,468.20 L678.98,468.23 L679.39,468.37 L679.79,468.51 L680.19,468.64 L680.60,468.78 L681.00,468.92 L681.40,469.06 L681.81,469.20 L682.21,469.34 L682.61,469.48 L683.02,469.62 L683.42,469.76 L683.82,469.90 L684.22,470.03 L684.63,470.17 L685.03,470.31 L685.43,470.45 L685.84,470.59 L686.24,470.73 L686.64,470.87 L687.05,471.01 L687.30,471.10 L687.45,471.15 L687.85,471.29 L688.26,471.43 L688.66,471.57 L689.06,471.71 L689.47,471.85 L689.87,471.99 L690.27,472.13 L690.67,472.27 L691.08,472.41 L691.48,472.55 L691.88,472.70 L692.29,472.84 L692.69,472.98 L693.09,473.12 L693.50,473.26 L693.90,473.40" fill="none" stroke="#00f" stroke-width="1.8" stroke-linejoin="round" stroke-linecap="butt"/>
<path d="M412.10,475.00 L412.50,474.83 L412.91,474.66 L413.31,474.49 L413.71,474.32 L414.12,474.16 L414.52,473.99 L414.92,473.83 L415.33,473.66 L415.73,473.50 L416.13,473.34 L416.53,473.17 L416.94,473.01 L417.34,472.85 L417.74,472.69 L418.15,472.54 L418.50,472.40 L418.55,472.38 L418.95,472.22 L419.36,472.07 L419.76,471.91 L420.16,471.76 L420.57,471.61 L420.97,471.46 L421.37,471.30 L421.78,471.15 L422.18,471.00 L422.58,470.85 L422.98,470.70 L423.39,470.56 L423.79,470.41 L424.19,470.26 L424.60,470.12 L425.00,469.97 L425.40,469.83 L425.81,469.68 L426.21,469.54 L426.61,469.40 L426.90,469.30 L427.02,469.26 L427.42,469.12 L427.82,468.98 L428.23,468.84 L428.63,468.71 L429.03,468.57 L429.44,468.43 L429.84,468.30 L430.24,468.16 L430.64,468.03 L431.05,467.90 L431.45,467.76 L431.85,467.63 L432.26,467.50 L432.66,467.37 L433.06,467.24 L433.47,467.11 L433.87,466.98 L434.27,466.85 L434.68,466.73 L435.08,466.60 L435.40,466.50 L435.48,466.47 L435.89,466.35 L436.29,466.22 L436.69,466.10 L437.10,465.97 L437.50,465.85 L437.90,465.72 L438.30,465.60 L438.71,465.48 L439.11,465.35 L439.51,465.23 L439.92,465.11 L440.32,464.99 L440.72,464.87 L441.13,464.75 L441.53,464.64 L441.93,464.52 L442.34,464.41 L442.74,464.29 L443.14,464.18 L443.55,464.07 L443.80,464.00 L443.95,463.96 L444.35,463.85 L444.75,463.74 L445.16,463.64 L445.56,463.53 L445.96,463.43 L446.37,463.32 L446.77,463.22 L447.17,463.12 L447.58,463.02 L447.98,462.92 L448.38,462.82 L448.79,462.72 L449.19,462.62 L449.59,462.52 L450.00,462.43 L450.40,462.33 L450.80,462.24 L451.21,462.15 L451.61,462.05 L452.01,461.96 L452.30,461.90 L452.41,461.87 L452.82,461.79 L453.22,461.70 L453.62,461.61 L454.03,461.53 L454.43,461.44 L454.83,461.36 L455.24,461.28 L455.64,461.20 L456.04,461.12 L456.45,461.04 L456.85,460.96 L457.25,460.88 L457.66,460.80 L458.06,460.72 L458.46,460.64 L458.87,460.57 L459.27,460.49 L459.67,460.41 L460.07,460.34 L460.48,460.26 L460.80,460.20 L460.88,460.18 L461.28,460.11 L461.69,460.04 L462.09,459.96 L462.49,459.89 L462.90,459.82 L463.30,459.75 L463.70,459.68 L464.11,459.61 L464.51,459.54 L464.91,459.47 L465.32,459.40 L465.72,459.33 L466.12,459.26 L466.52,459.19 L466.93,459.12 L467.33,459.05 L467.73,458.98 L468.14,458.90 L468.54,458.83 L468.94,458.75 L469.20,458.70 L469.35,458.67 L469.75,458.59 L470.15,458.51 L470.56,458.43 L470.96,458.35 L471.36,458.26 L471.77,458.18 L472.17,458.09 L472.57,458.01 L472.98,457.92 L473.38,457.83 L473.50,457.80 L473.78,457.74 L474.18,457.64 L474.59,457.55 L474.99,457.46 L475.39,457.37 L475.80,457.27 L476.20,457.18 L476.60,457.08 L477.01,456.98 L477.41,456.88 L477.81,456.78 L478.22,456.68 L478.62,456.58 L479.02,456.48 L479.43,456.37 L479.83,456.27 L480.23,456.16 L480.64,456.05 L481.04,455.94 L481.44,455.83 L481.84,455.72 L481.90,455.70 L482.25,455.60 L482.65,455.48 L483.05,455.37 L483.46,455.25 L483.86,455.13 L484.26,455.00 L484.67,454.88 L485.07,454.75 L485.47,454.63 L485.88,454.50 L486.28,454.37 L486.68,454.23 L487.09,454.10 L487.49,453.96 L487.89,453.82 L488.29,453.68 L488.70,453.53 L489.10,453.39 L489.50,453.24 L489.91,453.09 L490.31,452.93 L490.40,452.90 L490.71,452.78 L491.12,452.62 L491.52,452.46 L491.92,452.29 L492.33,452.13 L492.73,451.96 L493.13,451.79 L493.54,451.61 L493.94,451.43 L494.34,451.25 L494.75,451.07 L495.15,450.88 L495.55,450.69 L495.95,450.49 L496.36,450.29 L496.76,450.09 L497.16,449.88 L497.57,449.67 L497.97,449.46 L498.37,449.24 L498.78,449.01 L498.80,449.00 L499.18,448.78 L499.58,448.55 L499.99,448.30 L500.39,448.05 L500.79,447.79 L501.20,447.53 L501.60,447.26 L502.00,446.98 L502.41,446.70 L502.81,446.41 L503.21,446.12 L503.61,445.82 L504.02,445.52 L504.42,445.22 L504.82,444.91 L505.23,444.59 L505.60,444.30 L505.63,444.28 L506.03,443.95 L506.44,443.62 L506.84,443.29 L507.24,442.94 L507.65,442.59 L508.05,442.23 L508.45,441.86 L508.86,441.49 L509.26,441.11 L509.66,440.72 L510.06,440.33 L510.47,439.93 L510.70,439.70 L510.87,439.53 L511.27,439.12 L511.68,438.71 L512.08,438.30 L512.48,437.88 L512.89,437.44 L513.29,436.99 L513.69,436.52 L514.10,436.04 L514.50,435.53 L514.90,435.00 L514.90,435.00 L515.31,434.43 L515.71,433.83 L516.11,433.20 L516.52,432.53 L516.92,431.83 L517.32,431.10 L517.72,430.34 L517.90,430.00 L518.13,429.55 L518.53,428.72 L518.93,427.85 L519.34,426.93 L519.74,425.99 L520.14,425.02 L520.55,424.02 L520.95,423.00 L521.35,421.96 L521.76,420.91 L522.16,419.85 L522.56,418.79 L522.97,417.72 L523.37,416.65 L523.77,415.60 L524.00,415.00 L524.17,414.54 L524.58,413.49 L524.98,412.44 L525.38,411.38 L525.79,410.32 L526.19,409.24 L526.59,408.16 L527.00,407.07 L527.40,405.96 L527.80,404.84 L528.21,403.70 L528.61,402.54 L529.01,401.36 L529.42,400.16 L529.80,399.00 L529.82,398.94 L530.22,397.69 L530.63,396.42 L531.03,395.12 L531.43,393.80 L531.83,392.45 L532.24,391.08 L532.64,389.69 L533.04,388.27 L533.45,386.84 L533.85,385.38 L534.25,383.91 L534.50,383.00 L534.66,382.42 L535.06,380.91 L535.46,379.37 L535.87,377.81 L536.27,376.23 L536.67,374.62 L537.08,372.97 L537.48,371.30 L537.88,369.59 L538.29,367.84 L538.69,366.05 L538.70,366.00 L539.09,364.21 L539.49,362.30 L539.90,360.34 L540.30,358.33 L540.70,356.28 L541.11,354.20 L541.51,352.10 L541.91,349.98 L542.32,347.86 L542.72,345.75 L543.12,343.66 L543.53,341.58 L543.70,340.70 L543.93,339.54 L544.33,337.48 L544.74,335.43 L545.14,333.37 L545.54,331.32 L545.94,329.28 L546.35,327.26 L546.50,326.50 L546.75,325.24 L547.15,323.21 L547.56,321.18 L547.96,319.19 L548.36,317.26 L548.77,315.44 L548.80,315.30 L549.17,313.69 L549.57,311.99 L549.98,310.39 L550.38,308.98 L550.50,308.60 L550.78,307.74 L551.19,306.59 L551.59,305.75 L551.70,305.60 L551.99,305.27 L552.40,304.90 L552.80,304.71 L552.90,304.70 L553.20,304.78 L553.60,305.07 L554.01,305.49 L554.10,305.60 L554.41,306.12 L554.81,307.14 L555.22,308.35 L555.30,308.60 L555.62,309.65 L556.02,311.16 L556.43,312.82 L556.83,314.56 L557.00,315.30 L557.23,316.33 L557.64,318.21 L558.04,320.17 L558.44,322.18 L558.85,324.22 L559.25,326.25 L559.30,326.50 L559.65,328.26 L560.06,330.29 L560.46,332.33 L560.86,334.39 L561.26,336.45 L561.67,338.50 L562.07,340.55 L562.10,340.70 L562.47,342.61 L562.88,344.69 L563.28,346.80 L563.68,348.91 L564.09,351.03 L564.49,353.14 L564.89,355.23 L565.30,357.30 L565.70,359.33 L566.10,361.32 L566.51,363.26 L566.91,365.13 L567.10,366.00 L567.31,366.94 L567.71,368.71 L568.12,370.44 L568.52,372.13 L568.92,373.79 L569.33,375.42 L569.73,377.02 L570.13,378.59 L570.54,380.14 L570.94,381.66 L571.30,383.00 L571.34,383.16 L571.75,384.64 L572.15,386.11 L572.55,387.55 L572.96,388.98 L573.36,390.38 L573.76,391.76 L574.17,393.12 L574.57,394.46 L574.97,395.77 L575.37,397.06 L575.78,398.32 L576.00,399.00 L576.18,399.55 L576.58,400.76 L576.99,401.95 L577.39,403.12 L577.79,404.26 L578.20,405.40 L578.60,406.51 L579.00,407.61 L579.41,408.70 L579.81,409.78 L580.21,410.85 L580.62,411.91 L581.02,412.96 L581.42,414.02 L581.80,415.00 L581.83,415.07 L582.23,416.12 L582.63,417.18 L583.03,418.25 L583.44,419.32 L583.84,420.38 L584.24,421.44 L584.65,422.48 L585.05,423.51 L585.45,424.52 L585.86,425.50 L586.26,426.46 L586.66,427.39 L587.07,428.28 L587.47,429.14 L587.87,429.95 L587.90,430.00 L588.28,430.72 L588.68,431.46 L589.08,432.18 L589.48,432.86 L589.89,433.52 L590.29,434.13 L590.69,434.72 L590.90,435.00 L591.10,435.26 L591.50,435.78 L591.90,436.28 L592.31,436.76 L592.71,437.21 L593.11,437.66 L593.52,438.09 L593.92,438.51 L594.32,438.92 L594.73,439.32 L595.10,439.70 L595.13,439.73 L595.53,440.13 L595.94,440.53 L596.34,440.91 L596.74,441.30 L597.14,441.67 L597.55,442.04 L597.95,442.41 L598.35,442.76 L598.76,443.11 L599.16,443.45 L599.56,443.79 L599.97,444.11 L600.20,444.30 L600.37,444.43 L600.77,444.75 L601.18,445.06 L601.58,445.37 L601.98,445.67 L602.39,445.97 L602.79,446.27 L603.19,446.56 L603.59,446.84 L604.00,447.12 L604.40,447.39 L604.80,447.66 L605.21,447.92 L605.61,448.18 L606.01,448.43 L606.42,448.67 L606.82,448.90 L607.00,449.00 L607.22,449.12 L607.63,449.35 L608.03,449.56 L608.43,449.77 L608.84,449.98 L609.24,450.19 L609.64,450.39 L610.05,450.59 L610.45,450.78 L610.85,450.97 L611.25,451.16 L611.66,451.34 L612.06,451.52 L612.46,451.70 L612.87,451.87 L613.27,452.04 L613.67,452.21 L614.08,452.38 L614.48,452.54 L614.88,452.70 L615.29,452.86 L615.40,452.90 L615.69,453.01 L616.09,453.16 L616.50,453.31 L616.90,453.46 L617.30,453.61 L617.71,453.75 L618.11,453.89 L618.51,454.03 L618.91,454.16 L619.32,454.30 L619.72,454.43 L620.12,454.56 L620.53,454.69 L620.93,454.82 L621.33,454.94 L621.74,455.06 L622.14,455.19 L622.54,455.31 L622.95,455.43 L623.35,455.54 L623.75,455.66 L623.90,455.70 L624.16,455.77 L624.56,455.88 L624.96,456.00 L625.36,456.11 L625.77,456.21 L626.17,456.32 L626.57,456.43 L626.98,456.53 L627.38,456.63 L627.78,456.73 L628.19,456.83 L628.59,456.93 L628.99,457.03 L629.40,457.13 L629.80,457.22 L630.20,457.32 L630.61,457.41 L631.01,457.51 L631.41,457.60 L631.82,457.69 L632.22,457.78 L632.30,457.80 L632.62,457.87 L633.02,457.96 L633.43,458.05 L633.83,458.14 L634.23,458.22 L634.64,458.31 L635.04,458.39 L635.44,458.47 L635.85,458.55 L636.25,458.63 L636.60,458.70 L636.65,458.71 L637.06,458.79 L637.46,458.86 L637.86,458.94 L638.27,459.01 L638.67,459.08 L639.07,459.16 L639.48,459.23 L639.88,459.30 L640.28,459.37 L640.68,459.44 L641.09,459.51 L641.49,459.57 L641.89,459.64 L642.30,459.71 L642.70,459.78 L643.10,459.86 L643.51,459.93 L643.91,460.00 L644.31,460.07 L644.72,460.15 L645.00,460.20 L645.12,460.22 L645.52,460.30 L645.93,460.37 L646.33,460.45 L646.73,460.53 L647.13,460.60 L647.54,460.68 L647.94,460.76 L648.34,460.84 L648.75,460.92 L649.15,461.00 L649.55,461.08 L649.96,461.16 L650.36,461.24 L650.76,461.32 L651.17,461.40 L651.57,461.49 L651.97,461.57 L652.38,461.66 L652.78,461.74 L653.18,461.83 L653.50,461.90 L653.59,461.92 L653.99,462.01 L654.39,462.10 L654.79,462.19 L655.20,462.28 L655.60,462.38 L656.00,462.47 L656.41,462.57 L656.81,462.67 L657.21,462.77 L657.62,462.86 L658.02,462.97 L658.42,463.07 L658.83,463.17 L659.23,463.27 L659.63,463.37 L660.04,463.48 L660.44,463.58 L660.84,463.69 L661.25,463.80 L661.65,463.91 L662.00,464.00 L662.05,464.01 L662.45,464.12 L662.86,464.24 L663.26,464.35 L663.66,464.46 L664.07,464.58 L664.47,464.69 L664.87,464.81 L665.28,464.93 L665.68,465.05 L666.08,465.17 L666.49,465.29 L666.89,465.41 L667.29,465.54 L667.70,465.66 L668.10,465.78 L668.50,465.91 L668.90,466.03 L669.31,466.16 L669.71,466.28 L670.11,466.41 L670.40,466.50 L670.52,466.54 L670.92,466.66 L671.32,466.79 L671.73,466.92 L672.13,467.05 L672.53,467.18 L672.94,467.30 L673.34,467.43 L673.74,467.57 L674.15,467.70 L674.55,467.83 L674.95,467.96 L675.36,468.10 L675.76,468.23 L676.16,468.36 L676.56,468.50 L676.97,468.64 L677.37,468.77 L677.77,468.91 L678.18,469.05 L678.58,469.19 L678.90,469.30 L678.98,469.33 L679.39,469.47 L679.79,469.62 L680.19,469.76 L680.60,469.91 L681.00,470.06 L681.40,470.21 L681.81,470.36 L682.21,470.51 L682.61,470.66 L683.02,470.82 L683.42,470.97 L683.82,471.12 L684.22,471.27 L684.63,471.43 L685.03,471.58 L685.43,471.73 L685.84,471.88 L686.24,472.02 L686.64,472.17 L687.05,472.31 L687.30,472.40 L687.45,472.45 L687.85,472.59 L688.26,472.73 L688.66,472.87 L689.06,473.01 L689.47,473.15 L689.87,473.28 L690.27,473.42 L690.67,473.55 L691.08,473.69 L691.48,473.82 L691.88,473.95 L692.29,474.08 L692.69,474.21 L693.09,474.34 L693.50,474.47 L693.90,474.60" fill="none" stroke="#f00" stroke-width="1.8" stroke-linejoin="round" stroke-linecap="butt"/>
<line x1="600.3" y1="294.7" x2="629.8" y2="294.7" stroke="#000" stroke-width="1.7"/>
<text x="633.5" y="299.3" font-family='"Liberation Sans", Arial, sans-serif' font-size="13.05" font-weight="normal" text-anchor="start" fill="#0a0a0a" stroke="#0a0a0a" stroke-width="0.27">Position A</text>
<line x1="600.3" y1="310.5" x2="629.8" y2="310.5" stroke="#00f" stroke-width="1.7"/>
<text x="633.5" y="315.1" font-family='"Liberation Sans", Arial, sans-serif' font-size="13.05" font-weight="normal" text-anchor="start" fill="#0a0a0a" stroke="#0a0a0a" stroke-width="0.27">Position B</text>
<line x1="600.3" y1="326.7" x2="629.8" y2="326.7" stroke="#f00" stroke-width="1.7"/>
<text x="633.5" y="331.3" font-family='"Liberation Sans", Arial, sans-serif' font-size="13.05" font-weight="normal" text-anchor="start" fill="#0a0a0a" stroke="#0a0a0a" stroke-width="0.27">Position C</text>
<text x="510.7" y="369.7" font-family='"Liberation Sans", Arial, sans-serif' font-size="13.05" font-weight="normal" text-anchor="middle" fill="#0a0a0a" stroke="#0a0a0a" stroke-width="0.27">Columnar</text>
<text x="510.0" y="385.7" font-family='"Liberation Sans", Arial, sans-serif' font-size="13.05" font-weight="normal" text-anchor="middle" fill="#0a0a0a" stroke="#0a0a0a" stroke-width="0.27">root</text>
<text x="596.8" y="369.8" font-family='"Liberation Sans", Arial, sans-serif' font-size="13.05" font-weight="normal" text-anchor="middle" fill="#0a0a0a" stroke="#0a0a0a" stroke-width="0.27">Columnar</text>
<text x="598.7" y="385.6" font-family='"Liberation Sans", Arial, sans-serif' font-size="13.05" font-weight="normal" text-anchor="middle" fill="#0a0a0a" stroke="#0a0a0a" stroke-width="0.27">root</text>
</svg>
</body></html>
